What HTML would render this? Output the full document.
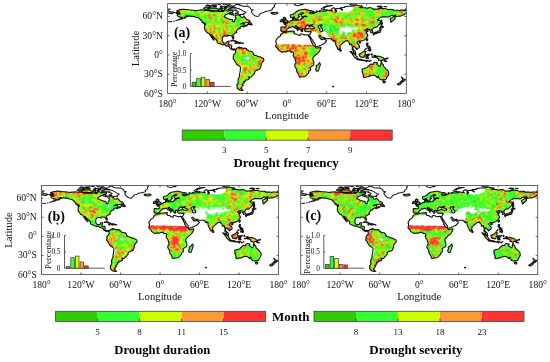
<!DOCTYPE html>
<html><head><meta charset="utf-8"><style>
html,body{margin:0;padding:0;background:#fff;width:550px;height:362px;overflow:hidden}
svg{position:absolute;left:0;top:0}
.tk{font-family:"Liberation Serif","Times New Roman",serif;font-size:9.6px;fill:#111}
.al{font-family:"Liberation Serif","Times New Roman",serif;font-size:10.7px;fill:#111}
.cl{font-family:"Liberation Serif","Times New Roman",serif;font-size:9px;fill:#111}
.it{font-family:"Liberation Serif","Times New Roman",serif;font-size:7.3px;fill:#111}
.pc{font-family:"Liberation Serif","Times New Roman",serif;font-size:9.2px;fill:#111}
.tt{font-family:"Liberation Serif","Times New Roman",serif;font-size:13px;font-weight:bold;fill:#000}
.lb{font-family:"Liberation Serif","Times New Roman",serif;font-size:14px;font-weight:bold;fill:#000}
</style></head><body>
<svg width="550" height="362" viewBox="0 0 550 362">
<defs>
<path id="land" d="M-166,-68.8 -163.5,-69.8 -160,-70.6 -156.5,-71.3 -152,-70.8 -148,-70.3 -145,-70.1 -141,-69.7 -137,-69 -134.5,-69.6 -131,-69.8 -128,-70.3 -125,-69.5 -121,-69.8 -117.5,-69 -114.5,-68 -110,-68 -107.5,-68.2 -104.5,-68 -101.5,-67.7 -98,-67.8 -96,-67.6 -95,-68.5 -94.3,-69.5 -94.5,-71.8 -93,-71.5 -92,-70 -90,-68.8 -88,-68.4 -86.5,-69.5 -85,-69.8 -83,-69.6 -81.5,-69 -81.3,-67.5 -82.5,-66.6 -85.5,-66.4 -86.8,-65 -88,-64.2 -90.5,-63.5 -92.5,-62.5 -94,-61.2 -94.7,-59.5 -94.3,-58.8 -93,-58.7 -90.5,-57.3 -88,-56.5 -85,-55.3 -82.3,-55.1 -82.2,-53.5 -81.5,-52.2 -80,-51.3 -78.8,-52 -79,-54 -78,-55.5 -77,-57 -77.3,-58.5 -78,-60 -77.6,-61.2 -78.1,-62.3 -75.8,-62.2 -73,-62.2 -71.5,-61.3 -70,-61 -69.5,-59.5 -69.3,-58.8 -67.8,-58.3 -66.2,-58.8 -64.8,-60.2 -64.3,-59.5 -63.5,-58.3 -62,-57.2 -61.5,-56 -60,-55.2 -57.5,-54.2 -56.5,-53.3 -55.7,-52.2 -57,-51.4 -59,-50.5 -61.5,-50.2 -64,-50.2 -66.5,-50.2 -68.5,-49.2 -70,-48.2 -69,-48.2 -67.5,-48.8 -65,-49.2 -64.3,-48.6 -65,-47.9 -64.5,-46.5 -63,-46.1 -61,-46.5 -60.2,-46.2 -60,-45.6 -61,-45.2 -63.5,-44.6 -65.8,-43.6 -66.3,-44.5 -64.5,-45.5 -67,-45.1 -68,-44.4 -69.5,-43.9 -70.4,-43.3 -70.8,-42.7 -70.6,-41.7 -70,-41.9 -70.2,-41.6 -71.5,-41.4 -73.5,-40.9 -74,-40.6 -74,-39.6 -75,-38.9 -75.5,-38.5 -76,-37.1 -76.2,-36 -75.5,-35.3 -76.5,-34.8 -77.8,-34 -79,-33.3 -80.5,-32.3 -81.3,-31.3 -81.3,-29.8 -80.6,-28.3 -80,-26.6 -80.4,-25.3 -81,-25.2 -81.8,-26.1 -82.6,-27.6 -82.7,-28.8 -83.7,-29.9 -84.5,-29.9 -86,-30.4 -88,-30.5 -89.5,-30.2 -89.3,-29.1 -90.5,-29.1 -92,-29.6 -93.8,-29.7 -95,-29.2 -96.8,-28.2 -97.4,-27.3 -97.3,-25.8 -97.7,-24.3 -97.7,-22.5 -97.2,-21.2 -96.3,-19.5 -95.2,-18.7 -94.5,-18.2 -92.5,-18.6 -91.3,-18.7 -90.6,-19.6 -90.4,-21 -88.8,-21.4 -87.1,-21.5 -87.5,-20 -87.7,-18.6 -88.2,-17.6 -88.3,-16.3 -88.7,-15.8 -87.5,-15.8 -86,-15.9 -84.5,-15.8 -83.3,-15 -83.4,-13.5 -83.6,-11.8 -83.5,-10.8 -82.5,-9.6 -81.5,-8.9 -80,-9.3 -79,-9.5 -77.8,-8.8 -77.2,-7.9 -77.8,-7.3 -78.4,-8.3 -79.5,-8.7 -80.2,-8.2 -80.4,-7.4 -81.2,-7.7 -82,-8.2 -83.5,-8.5 -84.8,-9.6 -85.7,-9.9 -85.8,-11 -86.6,-12.1 -87.5,-13 -88.5,-13.2 -90,-13.8 -91.5,-14 -92.5,-14.8 -93.8,-15.9 -94.8,-16.2 -96.5,-15.7 -98.5,-16.3 -101,-17.4 -103.5,-18.3 -104.8,-19.3 -105.6,-20.5 -105.3,-21.8 -105.8,-22.8 -107.3,-24.5 -108.8,-25.5 -109.6,-26.7 -110.6,-27.8 -111.8,-28.7 -112.8,-30.2 -113.6,-31.3 -114.8,-31.7 -114.8,-30.8 -114.3,-29.8 -113.2,-28.8 -112.2,-27.3 -111.5,-26 -110.8,-24.7 -110.2,-24.2 -109.5,-23.2 -109.9,-22.9 -110.3,-23.5 -111.5,-24.4 -112.2,-25 -112.2,-26.2 -113.2,-26.8 -114.2,-27.6 -114.1,-28.4 -114.8,-29.5 -115.8,-30.4 -116.6,-31.6 -117.1,-32.5 -117.5,-33.4 -118.5,-34 -119.5,-34.4 -120.6,-34.6 -120.9,-35.5 -121.9,-36.6 -122.4,-37.4 -122.9,-38 -123.7,-39 -123.8,-39.9 -124.3,-40.5 -124.2,-41.5 -124.5,-42.8 -124.1,-44.5 -124,-46.2 -124.5,-47.5 -124.7,-48.4 -123.2,-48.2 -122.6,-47.3 -122.6,-48.8 -123.3,-49.3 -124.5,-49.9 -125.2,-50.5 -126.8,-51 -127.6,-51.8 -128.2,-52.7 -129.2,-53.8 -130.4,-54.5 -130.1,-55.5 -131.5,-55.8 -132.2,-56.8 -133.4,-57.6 -134.6,-58.4 -136,-58.3 -137.3,-58.7 -138.7,-59.3 -140.5,-59.8 -142.5,-60.1 -144.3,-60.1 -146.3,-60.6 -148,-60.5 -149.5,-59.8 -151,-59.3 -151.7,-59.5 -151.3,-60.7 -150,-61.2 -152,-60.8 -153.3,-59.6 -154,-59 -154.3,-58.1 -156,-57.4 -157.8,-56.5 -159.2,-55.8 -161.5,-55.4 -163.2,-54.9 -164.7,-54.4 -163.5,-55.1 -161.8,-55.8 -160.2,-56.4 -158.6,-57.3 -157.5,-58.3 -158.4,-58.8 -160.3,-58.7 -161.8,-58.6 -162.1,-59.6 -163.5,-59.8 -164.7,-60.5 -165.4,-61.2 -165.8,-62.2 -164.8,-62.8 -164.5,-63.2 -162.8,-63.5 -161.2,-63.6 -160.8,-64.4 -162.3,-64.6 -163.6,-64.5 -165.5,-64.5 -166.5,-64.7 -166.9,-65.3 -168.1,-65.6 -166.3,-66.2 -164.5,-66.6 -163.7,-66.3 -162,-66.1 -161.8,-66.7 -163.8,-67.2 -164.6,-67.8 -166.3,-68.3ZM-77.3,-8.5 -76.2,-9.3 -75.6,-10.6 -74.4,-11.1 -73.3,-11.3 -72.2,-11.9 -71.5,-12.4 -71.2,-11.7 -71.6,-11 -71.6,-10.5 -71,-10.8 -70.3,-11.6 -69.8,-11.5 -68.8,-11.4 -68.3,-10.6 -66.8,-10.6 -65,-10.1 -64,-10.7 -62.7,-10.6 -62.3,-10 -61,-9.9 -60.8,-8.6 -59.9,-8.3 -59,-7.8 -58.5,-6.9 -57.3,-6 -55.9,-5.9 -54.2,-5.8 -53,-5.5 -52,-4.5 -51.5,-4.2 -51,-3.2 -50.5,-1.8 -49.9,-1.1 -50.5,-0.2 -49.5,0.2 -48.4,0.7 -47.5,0.6 -45.5,1.2 -44.5,2.3 -43.5,2.4 -42,2.8 -40.5,2.8 -39.3,3.3 -38.2,4.2 -37.2,4.9 -35.5,5.2 -35,6.5 -34.8,7.8 -35.2,9 -35.9,9.9 -37,11 -37.8,12.5 -38.9,13.2 -39,15.5 -39.2,17.5 -39.7,19.2 -40.5,20.6 -41,21.9 -42.2,22.9 -43.5,23.1 -45,23.6 -46.5,24.1 -47.8,25 -48.5,26.2 -48.6,28 -49.5,29 -50.5,30.6 -51.5,31.7 -52.5,32.6 -53.4,33.7 -54.3,34.6 -55.7,34.8 -57,34.5 -58.4,34.1 -57.3,35.4 -56.8,36.4 -57.5,37.9 -58.8,38.6 -61,39 -62.2,38.9 -62.3,40.3 -63,41.1 -64.8,40.8 -65.1,41.9 -64.2,42.4 -65,42.9 -65.3,44.5 -66.5,45 -67.5,46 -66,47.2 -67.5,48.5 -67.9,49.7 -69,50.6 -68.8,51.6 -68.3,52.3 -69.5,52.5 -68.5,53.2 -67.6,54 -66,54.9 -67.3,55.2 -68.6,55.4 -70,55 -71.5,54.5 -73,53.4 -74.3,52.5 -75,51 -75.4,49.5 -75.5,48 -74.8,46.8 -75.5,46.3 -74.4,45.2 -73.7,44 -73.5,43 -73.3,41.8 -73.8,40.5 -73.5,38.5 -73.6,37.3 -72.7,35.8 -72.1,34.5 -71.6,33.2 -71.5,32 -71.5,30.3 -71.3,28.8 -70.9,27.5 -70.5,25.5 -70.4,23.5 -70.2,21.5 -70.1,20 -70.3,18.4 -71.3,17.7 -72.5,16.8 -74,15.9 -75.5,14.8 -76.3,13.8 -76.6,12.8 -77.5,11.8 -78.2,10.3 -79,8.5 -79.9,7.2 -81.1,6.1 -81.2,5.1 -80.9,4.2 -80.2,3.4 -80.5,2.8 -80.9,2.2 -80.8,1.2 -80.4,0.3 -80.1,-0.8 -79.1,-1.3 -78.8,-1.9 -78.5,-2.6 -77.7,-3.3 -77.3,-4.2 -77.4,-5.6 -77.5,-6.6 -78,-7.3 -77.6,-7.9 -77.3,-8.5ZM-5.9,-35.8 -4.5,-35.2 -2.2,-35.1 -1,-35.6 0.2,-35.9 1.5,-36.5 3,-36.8 5,-36.8 6.5,-37.1 8,-36.9 9.8,-37.3 10.4,-36.8 11.1,-37 10.6,-36.3 10.7,-35.6 11.1,-35.2 10.2,-34.2 10.8,-33.7 11.2,-33.1 12.5,-32.8 13.5,-32.8 15.2,-32.3 15.7,-31.4 17,-31 18.5,-30.3 19.5,-30.3 20.2,-31.2 20,-32.2 21.2,-32.8 22.5,-32.8 23.3,-32.3 24.9,-31.9 25.2,-31.5 27,-31.3 28.5,-31 29.7,-31.2 30.8,-31.6 32.2,-31.3 32.6,-29.9 33.2,-28.5 33.9,-27.3 34.6,-26 35.6,-24 35.8,-22.8 36.9,-21.9 37.2,-20.5 37.3,-19 38.5,-18 39.3,-15.8 40.2,-15 41.3,-13.9 42.4,-12.9 43.3,-11.9 43.5,-11.4 44.5,-10.4 45.8,-10.8 47.5,-11.2 49,-11.3 50.5,-11.9 51.3,-11.8 51.1,-10.5 50.8,-9.2 50.1,-8 49.4,-6.7 48.5,-5.1 47.7,-4.2 46.5,-2.9 45.5,-2 44,-1 42.9,0.3 41.7,1.7 40.5,2.5 39.8,3.8 39.2,4.7 38.8,6.2 39.3,7.2 39.4,8.4 39.8,9.9 40.5,10.7 40.6,12.5 40.6,14.3 40.3,15.5 39.5,16.7 38.2,17.3 37,17.9 35.8,18.9 34.8,19.8 35.3,21.3 35.5,22.5 35.5,24 34.5,24.7 33,25.4 32.6,26.2 32.8,27.2 32.4,28.6 31.3,29.5 30.3,30.8 29,32.2 27.8,33.2 26,33.8 25,34 23.3,34 22,34.2 20,34.8 18.8,34.3 18.4,33.9 18.3,32.5 17.6,30.7 17,29 16.4,28.5 15.3,27.2 14.8,25.5 14.5,22.9 14.2,21.9 13.3,20.4 12.2,18.5 11.7,17 11.9,15.6 12.4,13.9 13.6,12.2 13.7,11.1 13.1,9.8 12.8,8.5 12.3,6.6 12.1,5.4 11.4,4.2 10.5,3.3 9.6,2 9.3,0.8 9.5,-0.5 9.5,-1.3 9.9,-2.5 9.9,-3.5 9.3,-3.9 8.8,-4.5 8,-4.5 7,-4.4 6,-4.3 5.4,-5.2 4.6,-6.2 3.5,-6.4 2.2,-6.3 1,-6 0,-5.6 -1,-5.1 -2,-4.8 -3,-5.1 -4.5,-5.2 -6,-4.8 -7.5,-4.4 -8.5,-4.7 -9.7,-5.6 -10.8,-6.3 -11.5,-6.9 -12.5,-7.5 -13.2,-8.3 -13.3,-9.4 -14.2,-10.1 -14.8,-10.8 -15.5,-11.6 -16.3,-12.1 -16.7,-12.7 -16.8,-13.8 -17.2,-14.7 -16.6,-15.6 -16.3,-16.5 -16.1,-18 -16.3,-19.5 -16.5,-20.4 -17,-21 -16.6,-22.3 -16,-23.7 -15.1,-24.8 -14.6,-25.9 -13.5,-27.2 -12.5,-27.9 -11.5,-28.2 -10.2,-29.1 -9.7,-30.2 -9.7,-31.5 -9.2,-32.5 -8.3,-33.4 -7,-33.9 -6.5,-34.7 -6.1,-35.5 -5.9,-35.8ZM49.3,12 50,13.5 50.5,15.3 50.2,16 49.7,17 49.3,18.5 48.7,20.5 48,22.5 47.5,24.3 46.7,25.1 45.2,25.5 44,24.8 43.6,23.4 43.3,22 43.7,21.2 44.4,20 44.4,18.5 44,17.3 44.5,16.2 45.5,15.9 46.5,15.5 47.2,14.6 47.9,13.6 48.8,12.4 49.3,12ZM-5.7,-50.1 -4.5,-50.3 -3.3,-50.6 -2,-50.6 -0.8,-50.8 1,-51.1 1.4,-51.4 0.9,-51.8 1.7,-52.4 1.7,-52.8 0.3,-53.1 0.1,-53.6 -0.2,-54.1 -0.8,-54.6 -1.4,-55 -1.6,-55.6 -2.2,-56 -2.7,-56.3 -2.1,-57.1 -1.8,-57.6 -3.1,-57.7 -3.8,-57.8 -3.1,-58.6 -5,-58.6 -5.2,-58 -5.8,-57.4 -5.6,-56.6 -5.8,-55.8 -5.2,-55.1 -4.7,-54.7 -3.5,-54.9 -3.4,-54.4 -2.9,-53.8 -3.1,-53.3 -4.4,-53.4 -4.7,-52.8 -4.1,-52.4 -5.2,-51.8 -4.3,-51.6 -3.1,-51.4 -3.6,-51.2 -4.5,-51 -5.4,-50.4 -5.7,-50.1ZM-6.2,-52.2 -6.1,-53.1 -6.3,-53.9 -5.6,-54.5 -6.2,-55.2 -7.3,-55.3 -8.3,-55.1 -8.6,-54.5 -10,-54.2 -9.9,-53.4 -9.3,-52.8 -10.3,-52.1 -9.8,-51.5 -8.3,-51.7 -7,-52.1 -6.2,-52.2ZM130.9,-34 131.5,-34.7 132.6,-35.5 134,-35.6 135.3,-35.7 136,-35.9 136.9,-37.1 137.3,-36.8 138.5,-37.4 139.3,-38.2 139.8,-39 140,-40.2 139.9,-40.8 140.3,-41.3 141.3,-41.4 141.5,-40.5 142,-39.6 141.5,-38.4 141,-38.1 140.9,-37 140.6,-36.3 140.8,-35.7 140.3,-35.1 139.8,-35.3 139.7,-34.9 139,-34.8 138.8,-34.6 137.6,-34.6 136.9,-34.9 136.8,-34.3 136.2,-34.2 135.8,-33.5 135.1,-33.8 135.3,-34.6 134.3,-34.7 133,-34.4 132,-33.9 131,-33.9 130.9,-34ZM130,-33.6 129.6,-33.2 129.8,-32.6 130.2,-32 130.2,-31.3 130.7,-31 131.1,-31.4 131.4,-31.9 131.7,-32.6 131.9,-33.1 131.6,-33.6 131.1,-33.9 130.5,-33.9 130,-33.6ZM132.4,-33.3 132.7,-32.8 133.2,-33 134.2,-33.3 134.7,-33.8 134.4,-34.2 133.5,-34.3 132.9,-34 132.4,-33.3ZM140,-41.5 140.1,-42.3 139.9,-42.7 140.5,-43.3 141.4,-43.4 141.6,-44.3 141.8,-45.4 142.7,-44.8 143.7,-44.2 144.8,-43.9 145.3,-44.3 145.2,-43.6 145.6,-43.3 144.3,-43 143.3,-42 142.1,-42.5 141.2,-42.4 140.9,-41.8 140.3,-41.6 140,-41.5ZM142,-46 142.3,-46.7 143.5,-46.1 143.2,-47.8 142.6,-48.7 144,-49.2 143.2,-50.6 143.3,-51.6 143.1,-52.5 143.3,-53.3 142.6,-54.4 142.2,-53.7 142.5,-53.1 141.8,-52 141.9,-50.7 142.1,-49.5 141.9,-48.3 142.1,-47.3 141.9,-46.6 142,-46ZM120.1,-23 120.6,-24.4 121.5,-25.3 122,-25 121.5,-23.5 120.9,-22 120.3,-22.5 120.1,-23ZM108.6,-19.2 109.6,-20 110.6,-20.1 111,-19.6 110.5,-18.7 109.6,-18.2 108.7,-18.5 108.6,-19.2ZM79.8,-6.3 79.8,-8 80,-9.6 80.6,-9.5 81.2,-8.6 81.9,-7.3 81.6,-6.4 80.6,-5.9 79.8,-6.3ZM95.2,-5.6 96,-5.3 97.5,-5.2 98.5,-4.1 99.7,-3.1 100.6,-2.1 101.5,-1.8 102.5,-0.9 103.4,-0.5 103.8,1 104.5,1.8 105.3,2.8 106,3.2 105.8,4.6 105.9,5.8 104.6,5.9 103.8,5 102.5,4 101.5,2.9 100.8,2 100.2,0.9 99.3,-0.2 98.8,-1.6 97.7,-2.5 96.9,-3.6 96,-4.5 95.2,-5.6ZM105.2,6.8 106,6 107,5.9 108.3,6.3 109.5,6.8 110.5,6.9 111.5,6.6 112.6,6.9 113.5,7.3 114.5,7.8 114.4,8.7 113,8.3 111.5,8.3 110,8 108.5,7.8 107,7.5 106.3,7.1 105.2,6.8ZM109,-1.5 109.6,-2 110.5,-1.7 111.3,-2.5 112,-3 113,-3.3 114,-4.3 114.8,-4.9 115.5,-5.4 116.2,-6.2 116.8,-7 117.3,-6.7 117.7,-6 118.5,-5.6 119.2,-5.3 118.5,-4.6 117.8,-4.2 117.7,-3.2 118,-2.2 118.9,-1 118.2,-0.9 117.6,-0.2 117.5,0.8 116.9,1.2 116.5,2 116.5,3 116,3.8 114.8,4 114.4,3.5 113.3,3.2 112.2,3.4 111.5,3 110.3,3 110,2 109.5,1 109,0 108.9,-0.8 109,-1.5ZM119.4,5.5 119.6,4.5 119.4,3.5 118.9,2.6 119.4,1.2 119.8,0 120.4,-0.7 121.5,-1 123,-0.9 124.5,-1.3 125.2,-1.6 124.6,-0.5 123.3,-0.3 121.5,-0.5 120.6,-0.4 120.3,0.6 121.2,1 122.5,0.8 123.3,1 122.5,1.5 121.5,1.9 122.1,3.2 122.5,4.5 123.1,4.8 122.5,5.5 121.8,4.7 121.2,4.5 120.9,3.6 120.5,2.8 120.3,3.8 120.4,5.5 119.4,5.5ZM120,-16.2 120.4,-17.5 120.6,-18.5 121.5,-18.6 122.3,-18.3 122.2,-17 121.5,-15.8 121.6,-14.7 122.5,-14.3 124,-13.8 124.2,-12.6 123.3,-13 122.5,-13.5 121.7,-13.9 120.9,-13.7 120.6,-14.5 120.1,-14.8 119.9,-15.8 120,-16.2ZM122,-7 122.8,-7.6 123.6,-7.9 124.3,-8.2 125.3,-9 125.5,-9.8 126.3,-9.2 126.6,-7.5 126.2,-6.3 125.7,-7.3 125.3,-6.1 124.3,-6.1 124,-7.2 123,-7.5 122,-7ZM131,1.3 132.4,0.4 133.5,0.7 134.2,1 134.3,2.5 135,3.3 136,2.3 137.3,1.5 138.8,1.9 140.5,2.4 141.6,2.7 143.4,3.4 144.5,3.8 145.8,4.9 145.9,5.6 147.5,6.2 147.8,6.9 147.1,7.4 148,8 148.7,9.1 149.6,9.7 150.8,10.3 149.8,10.4 148.3,10.2 147.2,9.4 146.4,8.4 144.5,7.6 143.7,8.1 143.1,9 141.2,9.2 140.2,8.2 139.1,8.1 138.1,8.4 138.3,7.4 137.8,5.8 136,4.7 134.9,4.2 133.6,3.9 132.8,4 132.1,2.9 133.1,2.4 132.2,2.1 131.2,1.6 131,1.3ZM113.5,22 113.7,23.5 113.5,24.8 114.1,26.3 113.3,26.1 114.2,28 114.9,29.5 115,31.5 115.7,32.5 115.7,33.3 115,33.6 115.1,34.3 116.6,35 117.9,35.1 119.3,34.5 120,33.9 121.5,33.8 123.5,33.9 124.2,33 125.5,32.3 127.2,32.2 129,31.7 131.2,31.5 132.5,32 134,32.8 135.2,34.3 135.6,34.8 136.2,34 137,33.4 137.8,32.6 137.9,33.6 137.4,34.9 138.2,34.6 138.5,35.6 139.5,35.9 139.8,37.3 140.5,38 141.5,38.4 142.5,38.4 143.5,38.8 144.6,38.2 144.9,37.9 145.5,38.5 146.3,39.1 147.3,38.3 148.3,37.8 149.9,37.5 150.1,36.3 150.6,35.2 151.2,34 151.6,33.1 152.5,32.3 153,31 153.6,28.6 153.2,27.2 153.1,25.8 152.4,24.8 151.5,23.9 150.8,22.6 149.5,22.3 148.8,20.8 147.6,19.6 146.3,19 146,17.5 145.4,16.3 145.3,14.9 144.4,14.3 143.8,14.1 143.5,12.6 142.8,11.7 142.5,10.7 142.1,11.5 141.6,12.9 141.6,14.5 141.5,15.5 141,16.8 140.4,17.7 139.3,17.4 138.4,16.8 137.2,15.9 136,15.1 135.5,14.8 135.9,13.6 136.7,12.2 136.1,11.9 135.2,12.2 133.8,11.6 132.7,11.4 132,11.3 131.2,12.1 130.2,12.5 130,13.5 129.6,14.9 128.3,14.9 127.6,14.2 126.8,13.9 125.8,14.6 125.1,15.2 124.4,16.3 123.6,17.1 122.5,17.3 122.2,18 121.3,19.4 120.2,19.9 118.8,20.3 117.4,20.7 116.2,20.9 115.1,21.6 114.2,22.2 114,21.8 113.5,22ZM144.6,40.7 146.3,41.1 148.3,40.9 148.3,42.1 147.9,43.1 147,43.6 146,43.6 145.3,42.6 144.7,41.4 144.6,40.7ZM172.7,34.4 173.5,35 174.3,35.7 174.8,36.8 175.5,37.2 176.2,37.7 177.2,38 178.5,37.7 178.3,38.6 177.9,39.2 177,39.5 176.8,40.2 176,41.1 175.3,41.6 174.7,41.3 175.2,40.5 174.7,39.8 173.8,39.3 174.6,38.7 174.8,37.8 174.3,36.6 173.5,35.8 172.7,34.4ZM172.7,40.5 173.8,40.9 174.3,41.5 173.7,42.4 172.8,43.2 173.1,43.8 172,44 171.3,44.4 170.8,45.8 169.8,46.4 168.4,46.6 167.5,46.2 166.5,46 166.6,45.3 167.6,44.6 168.6,44 170.2,43.1 171.2,42.1 171.7,41.4 172.1,40.8 172.7,40.5ZM-84.9,-21.9 -84,-22.6 -83,-22.9 -81.8,-23.1 -80.5,-23 -79.3,-22.4 -78,-22.2 -77.2,-21.6 -76,-21.1 -74.3,-20.3 -74.5,-19.9 -75.6,-19.9 -77.1,-19.9 -77.7,-20.1 -77.3,-20.6 -78.3,-21 -78.8,-21.6 -80.4,-22 -81.3,-22.1 -82,-22.3 -83.2,-22 -84.3,-21.9 -84.9,-21.9ZM-74.4,-18.4 -73.2,-19.1 -72.8,-19.9 -71.7,-19.9 -70.5,-19.8 -69.3,-19.2 -68.4,-18.6 -69.5,-18.4 -70.7,-18.2 -71.5,-17.7 -72.5,-18.1 -73.5,-18.2 -74.4,-18.4ZM-59.4,-47.6 -58.5,-48.6 -58,-49.5 -57.3,-50.6 -55.8,-51.6 -55.5,-50.6 -56.2,-49.9 -55.3,-49.5 -53.9,-49.6 -53.5,-49.2 -53.4,-48.2 -52.7,-47.5 -53.1,-46.7 -54,-46.9 -54.2,-47.5 -55.4,-46.9 -56.1,-47.6 -58.5,-47.5 -59.4,-47.6ZM-128.4,-50.8 -127.2,-50.4 -126,-49.6 -125.4,-48.9 -124,-48.4 -123.3,-48.4 -124,-49.3 -125.2,-50 -127.5,-50.8 -128.4,-50.8ZM148.3,5.6 150.2,5.5 151.5,4.8 152.2,4.3 152.3,5.3 151,6.1 149.3,6.2 148.3,5.6ZM127.5,-1.8 128,-1.3 128.7,-1.5 128.2,-0.6 128.9,-0.3 127.9,0.4 127.6,-0.3 127.5,-1.8ZM128,3.3 129.5,2.8 130.9,3.5 129.8,3.6 128,3.6 128,3.3ZM-78.3,-18.4 -77,-18.5 -76.3,-18 -77.2,-17.8 -78.3,-18.2 -78.3,-18.4ZM-67.2,-18.5 -65.6,-18.4 -65.7,-18 -67.2,-18 -67.2,-18.5ZM-119,-71.5 -117.5,-72.7 -114,-73.2 -111.5,-72.8 -108.5,-73.2 -106,-72.8 -104.5,-71.5 -102.5,-71 -101,-70.2 -103,-69.2 -106,-69 -108.5,-68.9 -111,-69.2 -114.5,-69.4 -117.5,-69.8 -118.5,-70.5 -119,-71.5ZM-125.5,-72 -124.8,-73.5 -124.2,-74.3 -121,-74.5 -117.5,-74.2 -115.3,-73.5 -117.8,-72.8 -120.3,-71.5 -122.5,-71.2 -125.5,-72ZM-86.5,-64 -84,-63.2 -81.5,-63 -80.2,-63.8 -81.5,-64.5 -83,-65.5 -85,-65.8 -86.8,-65.5 -86.5,-64ZM-99.5,-69.3 -97.5,-69.8 -95.5,-69.3 -96.5,-68.4 -99,-68.5 -99.5,-69.3ZM-101.5,-72.5 -100,-73.8 -97.5,-73.5 -97,-72.2 -98.5,-71.4 -101.5,-72.5ZM-95,-72 -94,-73.8 -90.5,-74 -91.5,-72.5 -93.5,-72 -95,-72ZM-24.3,-65.6 -23.5,-66.2 -22.5,-66.4 -21.5,-65.9 -20,-66.1 -18.5,-66.2 -16.5,-66.5 -15,-66.4 -14.5,-65.9 -13.6,-65.2 -14.5,-64.5 -16,-64 -17.8,-63.5 -19.5,-63.4 -21,-63.8 -22.7,-63.9 -22,-64.4 -24,-64.9 -22.5,-65.3 -24.3,-65.6ZM115,8.2 115.7,8.4 115.2,8.8 114.6,8.4 115,8.2ZM116,8.4 116.7,8.4 116.5,8.9 116,8.8 116,8.4ZM117,8.6 119,8.3 118.8,8.8 117,9 117,8.6ZM119.8,8.5 122.5,8.1 122.8,8.5 120,8.9 119.8,8.5ZM119,9.6 120.8,9.9 120.5,10.3 119,9.8 119,9.6ZM123.6,10.3 125,9.2 127.2,8.4 126,9 124.4,10.2 123.6,10.3ZM124.3,-12.5 125.7,-12.3 125.7,-11 124.9,-10.2 124.3,-11.3 124.3,-12.5ZM121.9,-11.9 123.1,-11.1 122.8,-10.5 122,-10.5 121.9,-11.9ZM122.5,-10.8 123.5,-10.8 123.2,-9.5 122.5,-9.8 122.5,-10.8ZM118,-8.5 119.5,-10.5 119.8,-10.2 118.5,-8.7 117.2,-8.3 118,-8.5ZM-5.6,-36 -6.3,-36.8 -7.4,-37.2 -8.9,-37 -8.8,-38.2 -9.5,-38.8 -9,-40 -8.8,-41.5 -8.9,-42.5 -9.3,-43 -8,-43.7 -6,-43.6 -4,-43.4 -1.8,-43.4 -1.3,-44.3 -1.2,-45.5 -1.2,-46.2 -2.2,-47.1 -2.8,-47.5 -4.3,-47.8 -4.7,-48.4 -3.2,-48.8 -1.6,-48.7 -1.9,-49.7 -1.2,-49.4 0.2,-49.5 1,-49.9 1.6,-50.4 2.5,-51.1 3.5,-51.4 4.2,-51.9 4.7,-52.8 5.5,-53.3 7,-53.5 8.2,-53.5 8.8,-54 8.6,-55.2 8.2,-56.1 8.5,-57 9.5,-57.1 10.5,-57.7 10.4,-56.7 10.9,-56.3 10.1,-55.9 9.8,-55 10.9,-54.4 12,-54.2 13.3,-54.4 14.2,-53.9 16,-54.3 17.5,-54.8 18.7,-54.5 19.7,-54.4 21.2,-55.2 21.1,-56.1 21.3,-57 21.8,-57.5 22.6,-57.6 23.3,-57.1 24.2,-57.2 24.4,-58.3 23.5,-58.7 23.5,-59.2 24.8,-59.5 26.5,-59.5 28,-59.5 29.8,-59.9 28.8,-60.5 27.5,-60.5 26,-60.4 24,-60 22.9,-59.9 21.4,-60.7 21.5,-61.7 21.2,-62.6 22.3,-63.4 23.5,-64 24.6,-64.8 25.4,-65.2 24.6,-65.7 23.2,-65.8 22,-65.5 21.3,-64.7 20.3,-63.9 19,-63.4 17.8,-62.7 17.3,-61.7 17.2,-60.7 18.4,-60.3 19,-59.7 18.1,-59.1 16.9,-58.5 16.5,-57.5 16.3,-56.5 15.2,-56.1 14.3,-55.6 12.9,-55.5 12.5,-56.3 12.5,-56.8 11.9,-57.6 11.5,-58.3 11.2,-58.9 10.5,-59.6 10.3,-59.1 9.5,-58.9 8.3,-58.2 7,-58 6,-58.2 5.5,-58.8 5.4,-59.6 5,-60.3 5,-61.2 5.1,-62.1 6,-62.6 7.3,-63 8.5,-63.4 9.8,-63.9 10.8,-64.6 12,-65.3 12.5,-66 13.5,-67 14.6,-67.8 15.5,-68.4 16.6,-68.8 17.6,-69.5 19,-69.8 20.5,-70 22,-70.3 23.5,-70.7 25,-70.9 26.5,-71 28,-71 29.5,-70.6 31,-70.3 30.3,-69.8 32.1,-69.9 33.5,-69.3 36,-69.1 38.3,-68.5 40.5,-67.8 41.2,-66.8 40.3,-66.3 38.5,-66.1 35.5,-66.4 34.5,-66.5 33.5,-66.3 34.6,-65.5 34.8,-64.5 36.5,-64.1 37.5,-63.9 38,-64.5 40,-64.5 41.5,-65.2 43,-66.1 44.2,-66.2 44.5,-67 43.8,-68.4 45.5,-68.5 46.3,-67.9 48,-67.7 49.5,-67.9 51,-68.4 53,-68.6 54.5,-68.3 56,-68.6 58,-68.9 59.5,-68.5 60.5,-69.2 60.3,-69.9 62,-69.7 64.2,-69.4 66,-69.1 67.5,-68.5 68.5,-68.8 67.5,-69.6 66.8,-70.6 67.3,-71.5 68.6,-72.5 69.3,-73 70.5,-73.4 71.8,-72.8 72.7,-72.2 72.6,-71.1 72.4,-70.2 72.6,-69.2 73.6,-68.4 73.2,-67.7 72.5,-66.8 73.5,-66.8 74.5,-67.7 75,-68.5 74.5,-69.6 73.8,-70.6 73.5,-71.6 74.8,-72.2 75.5,-72.6 76.5,-72.2 78,-72.3 79.5,-72.4 80.7,-72.1 80.5,-71.3 81.5,-71.7 83,-71.4 83.7,-70.5 83.3,-69.6 82.5,-70.8 82.2,-71.8 81,-72.7 80.6,-73.6 82.5,-73.6 84.5,-73.8 86.8,-73.9 86,-74.5 87,-75.1 90,-75.6 93,-76 96,-76.1 98.5,-76.4 100.8,-76.5 101.5,-77.3 104.3,-77.7 106,-77.4 107.5,-76.9 109.5,-76.7 111.5,-76.6 113.3,-76.2 113.8,-75.5 112.7,-74.9 110.5,-74.4 109.5,-74 110.8,-73.7 113.2,-73.8 115,-73.6 118.5,-73.5 120.5,-72.9 123,-73.1 124.5,-73.8 126.5,-73.5 127.5,-73.2 128.9,-72.7 129.5,-71.9 131,-70.8 132.3,-71.6 133.5,-71.4 135.5,-71.6 137.5,-71.4 139.5,-72.2 140.5,-72.8 143,-72.6 146,-72.3 149,-72 150.5,-71.4 152.5,-70.9 155,-71 157,-70.9 159,-70.8 160.5,-70.3 160,-69.6 162.5,-69.6 165,-69.6 167.5,-69.7 169.5,-68.8 171,-69.8 172.5,-69.9 175,-69.8 177,-69.5 179,-69 180.5,-68.8 182,-68.2 184,-67.4 186,-67 188,-66.7 189.5,-66.3 190.3,-66 188.5,-65.4 187.5,-64.8 186.5,-64.3 185,-64.6 183.5,-64.6 182,-65.3 180.5,-65.3 179,-64.8 178,-64.2 177.3,-62.6 176,-62.4 174,-61.8 172.5,-61.1 171,-60.3 169.5,-60.6 167,-60.3 165,-60 164,-59.8 163.2,-59.3 163,-57.8 162.2,-57.6 163.2,-56.2 162.2,-55.6 161.8,-54.8 160.4,-54.3 160,-53.2 158.7,-52.8 158.2,-51.8 156.7,-51 156.5,-52.8 156.1,-54.5 155.6,-56 156.5,-57.4 158.2,-58 159.8,-59.3 161.9,-60.3 163.5,-61.2 164,-62.2 163.3,-62.4 162,-61.7 160.2,-61.3 159.5,-61.7 157.5,-61.6 156.5,-61.2 155,-59.9 154.3,-59.2 152.5,-59 151,-59.1 149,-59.4 147,-59.3 145,-59.3 143,-59.3 142,-58.8 140.5,-57.8 139,-57 137.8,-55.7 136.3,-54.8 137.5,-53.9 138.6,-53.9 139.6,-54.2 141.3,-53.1 141.2,-52.2 140.7,-51.2 140.5,-50.1 140.4,-48.9 139.9,-48 139,-47.2 138.2,-46.3 137.3,-45.4 136.3,-44.4 135.3,-43.5 134,-42.8 132.5,-43.2 131.8,-42.9 130.7,-42.3 130,-41.5 129.7,-40.8 129.5,-40.3 128.5,-39.9 127.5,-39.6 127.6,-39.1 128.4,-38.5 129.2,-37.5 129.5,-36.6 129.4,-35.4 128.5,-35 127.5,-34.6 126.4,-34.5 126.3,-35.5 126.6,-36.5 126.4,-37.3 126.1,-37.8 125.2,-37.7 125,-38.6 125.3,-39.4 124.7,-39.8 123.5,-39.8 122.2,-39.4 121.3,-38.9 121.6,-39.5 122.1,-40.3 121.4,-40.9 120.3,-40.3 119.4,-39.6 118.3,-39.1 117.7,-38.5 118.2,-37.8 118.9,-37.3 119.8,-37.1 120.8,-37.8 122.5,-37.4 122.3,-36.8 121,-36.5 120.2,-35.7 119.3,-34.8 120.3,-34.2 120.8,-32.8 121.4,-32.2 121.9,-31.6 121.5,-30.9 122,-30.3 121.6,-29.4 121.7,-28.6 121,-28.1 120.5,-27.4 119.8,-26.4 119.5,-25.5 118.7,-24.7 117.8,-24.1 116.8,-23.4 115.5,-22.8 114.3,-22.4 113.6,-22.2 112.9,-21.9 111.8,-21.6 110.7,-21.3 110.3,-20.4 109.9,-20.7 109.7,-21.6 108.6,-21.8 107.6,-21.4 106.7,-20.7 106,-19.9 105.7,-18.9 106.5,-17.8 107.2,-17 108.3,-15.9 108.9,-15.1 109.3,-13.6 109.3,-12.4 109.1,-11.4 108.1,-10.9 107.1,-10.5 106.4,-9.6 105.1,-8.6 104.8,-9.3 105,-10.1 104.4,-10.5 103.5,-10.6 103,-11.5 102.5,-12.2 101.5,-12.7 100.9,-12.7 100.9,-13.5 100.1,-13.4 99.9,-12.5 99.3,-11 99.2,-10 99.9,-9.2 100.3,-8.4 100.5,-7.3 101.3,-6.9 102.2,-6.2 103,-5.5 103.4,-4.8 103.4,-3.7 103.6,-2.8 104.2,-1.5 103.5,-1.3 102.8,-1.9 101.4,-2.8 100.7,-3.8 100.4,-5 100.3,-6 99.7,-6.8 99.3,-7.6 98.4,-8.1 98.5,-9.5 98.6,-10.8 98.7,-11.8 98.3,-13.2 97.8,-14.7 97.6,-16.2 97.2,-16.9 96.4,-16.6 95.4,-15.8 94.8,-15.9 94.3,-16.2 94.6,-17.5 94.3,-18.6 93.7,-19.4 93.1,-20.3 92.4,-20.7 92.1,-21.5 91.8,-22.4 91.1,-22.6 90.5,-22 89.8,-21.9 89,-21.7 88.1,-21.6 87,-21.5 86.9,-20.7 86.4,-19.9 85.1,-19.4 84.1,-18.3 83,-17.4 82.2,-16.6 81.3,-15.9 80.3,-15.5 80.2,-14.5 80.3,-13.3 80,-12 79.8,-10.9 79.3,-10.3 78.9,-9.3 78.2,-8.8 77.5,-8.1 76.6,-8.9 76.1,-10.2 75.7,-11.4 75.2,-12.7 74.6,-13.9 74.1,-15 73.5,-16.2 73.1,-17.6 72.8,-19 72.8,-20.4 72.7,-21.2 72.2,-21.8 72.5,-22.5 71.5,-22.2 70.6,-21.2 69.5,-21.9 69,-22.4 69.7,-22.9 68.8,-23.3 68.2,-23.7 67.4,-24 67,-24.8 66.6,-25.4 65,-25.3 63.5,-25.2 61.6,-25.2 60.4,-25.3 58.5,-25.6 57.3,-25.9 56.9,-26.9 56.4,-27.1 55.6,-26.8 54.7,-26.5 53.5,-26.8 52.5,-27.5 51.5,-27.9 50.9,-28.8 50.1,-30.1 49,-30.3 48.5,-29.9 48,-29.5 48.4,-28.5 48.8,-27.7 49.6,-26.8 50.2,-26.2 50.2,-25.6 50.8,-24.8 51.3,-26.1 51.6,-25.3 51.6,-24.3 52.6,-24.2 54,-24.1 54.7,-24.8 55.5,-25.4 56.1,-26.1 56.4,-26.4 56.4,-25.2 56.8,-24.2 57.8,-23.7 58.7,-23.6 59.4,-22.6 59.8,-22.4 59.3,-21.4 58.5,-20.4 58,-20.5 57.7,-19.7 57.7,-18.9 56.6,-18.6 56.3,-17.9 55.3,-17.2 55,-16.9 53.5,-16.6 52.2,-15.6 50.9,-15.1 49.6,-14.7 48.7,-14 47.4,-13.6 46,-13.4 44.9,-12.8 43.5,-12.6 43.2,-13.2 43,-14 42.8,-14.8 42.6,-15.7 42.8,-16.4 42.5,-17.2 41.8,-17.8 41.2,-18.7 40.6,-19.8 39.8,-20.3 39.1,-21.3 39,-22.5 38.5,-23.7 37.5,-24.3 37.2,-25.1 36.6,-26 36.2,-26.6 35.6,-27.4 35.1,-28.1 34.6,-28.1 34.9,-29.5 34.3,-28.1 33.6,-27.9 32.7,-29.9 32.3,-31.2 33.5,-31.1 34.2,-31.3 34.6,-31.9 34.9,-32.8 35.1,-33.1 35.5,-33.9 35.9,-34.6 35.9,-35.5 36.2,-36 36,-36.9 35.5,-36.6 34.7,-36.8 34,-36.2 32.5,-36.1 31.7,-36.6 30.6,-36.7 30.4,-36.3 29.7,-36.1 28.7,-36.7 27.6,-36.7 27.2,-37.4 26.7,-38.3 26.8,-38.9 26.2,-39.4 26.4,-40.2 27.3,-40.4 28.8,-40.4 29.2,-41.2 31.1,-41.1 32.3,-41.7 33.5,-42 35.2,-42 36.9,-41.3 38.3,-40.9 39.5,-41.1 40.4,-41 41.6,-41.5 41.5,-42.6 40.9,-43.1 40,-43.4 38.7,-44.3 37.5,-44.7 36.7,-45.2 37.9,-46 38.2,-46.9 39.1,-47.2 38.2,-47.1 37.4,-47 36.8,-46.7 35.8,-46.6 35,-46.2 35.5,-45.5 36.5,-45.5 35.9,-45 35.2,-44.9 34,-44.4 33.4,-44.6 32.5,-45.3 33.6,-45.9 32.6,-46.1 31.7,-46.3 31.2,-46.6 30.7,-46.5 30.2,-45.8 29.7,-45.3 29.6,-44.8 28.8,-44.9 28.6,-44.2 28.4,-43.4 28,-42.9 27.7,-42.5 28,-42 28.5,-41.6 29.1,-41.2 28.1,-41 27.5,-41 26.4,-40.5 26.1,-40.7 25.4,-40.9 24.5,-40.9 23.7,-40.7 23.9,-40.2 22.9,-40.6 22.6,-40.2 22.8,-39.6 23.3,-39.2 22.9,-38.9 23.5,-38.4 24,-38.2 24,-37.7 23.2,-37.9 22.9,-37.5 23.2,-36.4 22.6,-36.6 22.3,-36.4 21.7,-36.8 21.3,-37.6 21.1,-38.3 20.7,-38.8 20.2,-39.4 19.9,-40 19.4,-40.4 19.4,-41.4 19.6,-41.8 18.9,-42.3 18.5,-42.5 17.5,-43 16.3,-43.5 15.5,-44 15.1,-44.5 14.8,-45.1 14.3,-45.3 13.9,-44.9 13.6,-45.5 13.1,-45.7 12.3,-45.3 12.4,-44.8 12.4,-44 13.5,-43.6 14.1,-42.6 15,-42 15.9,-41.9 16.1,-41.4 17.1,-41 18.4,-40.4 18.5,-40.1 17.9,-40.2 17,-40.5 16.6,-39.9 17.1,-39.4 17.1,-38.9 16.6,-38.8 16.1,-38 15.7,-37.9 15.7,-38.3 16.2,-38.8 15.7,-40 15,-40.2 14.7,-40.6 14,-40.8 13.6,-41.2 12.6,-41.5 12,-41.9 11.2,-42.4 10.5,-42.9 10.2,-43.9 9.3,-44.3 8.4,-44.2 7.5,-43.8 6.6,-43.2 5.5,-43.2 4.5,-43.5 3.6,-43.4 3.1,-43.1 3.2,-42.3 3.1,-41.9 2.1,-41.2 0.8,-40.7 0.3,-40 -0.3,-39.3 0,-38.9 -0.5,-38.3 -0.7,-37.6 -1.4,-37.5 -2.1,-36.7 -3.4,-36.7 -4.4,-36.7 -5,-36.4 -5.6,-36ZM-365.6,-36 -366.3,-36.8 -367.4,-37.2 -368.9,-37 -368.8,-38.2 -369.5,-38.8 -369,-40 -368.8,-41.5 -368.9,-42.5 -369.3,-43 -368,-43.7 -366,-43.6 -364,-43.4 -361.8,-43.4 -361.3,-44.3 -361.2,-45.5 -361.2,-46.2 -362.2,-47.1 -362.8,-47.5 -364.3,-47.8 -364.7,-48.4 -363.2,-48.8 -361.6,-48.7 -361.9,-49.7 -361.2,-49.4 -359.8,-49.5 -359,-49.9 -358.4,-50.4 -357.5,-51.1 -356.5,-51.4 -355.8,-51.9 -355.3,-52.8 -354.5,-53.3 -353,-53.5 -351.8,-53.5 -351.2,-54 -351.4,-55.2 -351.8,-56.1 -351.5,-57 -350.5,-57.1 -349.5,-57.7 -349.6,-56.7 -349.1,-56.3 -349.9,-55.9 -350.2,-55 -349.1,-54.4 -348,-54.2 -346.7,-54.4 -345.8,-53.9 -344,-54.3 -342.5,-54.8 -341.3,-54.5 -340.3,-54.4 -338.8,-55.2 -338.9,-56.1 -338.7,-57 -338.2,-57.5 -337.4,-57.6 -336.7,-57.1 -335.8,-57.2 -335.6,-58.3 -336.5,-58.7 -336.5,-59.2 -335.2,-59.5 -333.5,-59.5 -332,-59.5 -330.2,-59.9 -331.2,-60.5 -332.5,-60.5 -334,-60.4 -336,-60 -337.1,-59.9 -338.6,-60.7 -338.5,-61.7 -338.8,-62.6 -337.7,-63.4 -336.5,-64 -335.4,-64.8 -334.6,-65.2 -335.4,-65.7 -336.8,-65.8 -338,-65.5 -338.7,-64.7 -339.7,-63.9 -341,-63.4 -342.2,-62.7 -342.7,-61.7 -342.8,-60.7 -341.6,-60.3 -341,-59.7 -341.9,-59.1 -343.1,-58.5 -343.5,-57.5 -343.7,-56.5 -344.8,-56.1 -345.7,-55.6 -347.1,-55.5 -347.5,-56.3 -347.5,-56.8 -348.1,-57.6 -348.5,-58.3 -348.8,-58.9 -349.5,-59.6 -349.7,-59.1 -350.5,-58.9 -351.7,-58.2 -353,-58 -354,-58.2 -354.5,-58.8 -354.6,-59.6 -355,-60.3 -355,-61.2 -354.9,-62.1 -354,-62.6 -352.7,-63 -351.5,-63.4 -350.2,-63.9 -349.2,-64.6 -348,-65.3 -347.5,-66 -346.5,-67 -345.4,-67.8 -344.5,-68.4 -343.4,-68.8 -342.4,-69.5 -341,-69.8 -339.5,-70 -338,-70.3 -336.5,-70.7 -335,-70.9 -333.5,-71 -332,-71 -330.5,-70.6 -329,-70.3 -329.7,-69.8 -327.9,-69.9 -326.5,-69.3 -324,-69.1 -321.7,-68.5 -319.5,-67.8 -318.8,-66.8 -319.7,-66.3 -321.5,-66.1 -324.5,-66.4 -325.5,-66.5 -326.5,-66.3 -325.4,-65.5 -325.2,-64.5 -323.5,-64.1 -322.5,-63.9 -322,-64.5 -320,-64.5 -318.5,-65.2 -317,-66.1 -315.8,-66.2 -315.5,-67 -316.2,-68.4 -314.5,-68.5 -313.7,-67.9 -312,-67.7 -310.5,-67.9 -309,-68.4 -307,-68.6 -305.5,-68.3 -304,-68.6 -302,-68.9 -300.5,-68.5 -299.5,-69.2 -299.7,-69.9 -298,-69.7 -295.8,-69.4 -294,-69.1 -292.5,-68.5 -291.5,-68.8 -292.5,-69.6 -293.2,-70.6 -292.7,-71.5 -291.4,-72.5 -290.7,-73 -289.5,-73.4 -288.2,-72.8 -287.3,-72.2 -287.4,-71.1 -287.6,-70.2 -287.4,-69.2 -286.4,-68.4 -286.8,-67.7 -287.5,-66.8 -286.5,-66.8 -285.5,-67.7 -285,-68.5 -285.5,-69.6 -286.2,-70.6 -286.5,-71.6 -285.2,-72.2 -284.5,-72.6 -283.5,-72.2 -282,-72.3 -280.5,-72.4 -279.3,-72.1 -279.5,-71.3 -278.5,-71.7 -277,-71.4 -276.3,-70.5 -276.7,-69.6 -277.5,-70.8 -277.8,-71.8 -279,-72.7 -279.4,-73.6 -277.5,-73.6 -275.5,-73.8 -273.2,-73.9 -274,-74.5 -273,-75.1 -270,-75.6 -267,-76 -264,-76.1 -261.5,-76.4 -259.2,-76.5 -258.5,-77.3 -255.7,-77.7 -254,-77.4 -252.5,-76.9 -250.5,-76.7 -248.5,-76.6 -246.7,-76.2 -246.2,-75.5 -247.3,-74.9 -249.5,-74.4 -250.5,-74 -249.2,-73.7 -246.8,-73.8 -245,-73.6 -241.5,-73.5 -239.5,-72.9 -237,-73.1 -235.5,-73.8 -233.5,-73.5 -232.5,-73.2 -231.1,-72.7 -230.5,-71.9 -229,-70.8 -227.7,-71.6 -226.5,-71.4 -224.5,-71.6 -222.5,-71.4 -220.5,-72.2 -219.5,-72.8 -217,-72.6 -214,-72.3 -211,-72 -209.5,-71.4 -207.5,-70.9 -205,-71 -203,-70.9 -201,-70.8 -199.5,-70.3 -200,-69.6 -197.5,-69.6 -195,-69.6 -192.5,-69.7 -190.5,-68.8 -189,-69.8 -187.5,-69.9 -185,-69.8 -183,-69.5 -181,-69 -179.5,-68.8 -178,-68.2 -176,-67.4 -174,-67 -172,-66.7 -170.5,-66.3 -169.7,-66 -171.5,-65.4 -172.5,-64.8 -173.5,-64.3 -175,-64.6 -176.5,-64.6 -178,-65.3 -179.5,-65.3 -181,-64.8 -182,-64.2 -182.7,-62.6 -184,-62.4 -186,-61.8 -187.5,-61.1 -189,-60.3 -190.5,-60.6 -193,-60.3 -195,-60 -196,-59.8 -196.8,-59.3 -197,-57.8 -197.8,-57.6 -196.8,-56.2 -197.8,-55.6 -198.2,-54.8 -199.6,-54.3 -200,-53.2 -201.3,-52.8 -201.8,-51.8 -203.3,-51 -203.5,-52.8 -203.9,-54.5 -204.4,-56 -203.5,-57.4 -201.8,-58 -200.2,-59.3 -198.1,-60.3 -196.5,-61.2 -196,-62.2 -196.7,-62.4 -198,-61.7 -199.8,-61.3 -200.5,-61.7 -202.5,-61.6 -203.5,-61.2 -205,-59.9 -205.7,-59.2 -207.5,-59 -209,-59.1 -211,-59.4 -213,-59.3 -215,-59.3 -217,-59.3 -218,-58.8 -219.5,-57.8 -221,-57 -222.2,-55.7 -223.7,-54.8 -222.5,-53.9 -221.4,-53.9 -220.4,-54.2 -218.7,-53.1 -218.8,-52.2 -219.3,-51.2 -219.5,-50.1 -219.6,-48.9 -220.1,-48 -221,-47.2 -221.8,-46.3 -222.7,-45.4 -223.7,-44.4 -224.7,-43.5 -226,-42.8 -227.5,-43.2 -228.2,-42.9 -229.3,-42.3 -230,-41.5 -230.3,-40.8 -230.5,-40.3 -231.5,-39.9 -232.5,-39.6 -232.4,-39.1 -231.6,-38.5 -230.8,-37.5 -230.5,-36.6 -230.6,-35.4 -231.5,-35 -232.5,-34.6 -233.6,-34.5 -233.7,-35.5 -233.4,-36.5 -233.6,-37.3 -233.9,-37.8 -234.8,-37.7 -235,-38.6 -234.7,-39.4 -235.3,-39.8 -236.5,-39.8 -237.8,-39.4 -238.7,-38.9 -238.4,-39.5 -237.9,-40.3 -238.6,-40.9 -239.7,-40.3 -240.6,-39.6 -241.7,-39.1 -242.3,-38.5 -241.8,-37.8 -241.1,-37.3 -240.2,-37.1 -239.2,-37.8 -237.5,-37.4 -237.7,-36.8 -239,-36.5 -239.8,-35.7 -240.7,-34.8 -239.7,-34.2 -239.2,-32.8 -238.6,-32.2 -238.1,-31.6 -238.5,-30.9 -238,-30.3 -238.4,-29.4 -238.3,-28.6 -239,-28.1 -239.5,-27.4 -240.2,-26.4 -240.5,-25.5 -241.3,-24.7 -242.2,-24.1 -243.2,-23.4 -244.5,-22.8 -245.7,-22.4 -246.4,-22.2 -247.1,-21.9 -248.2,-21.6 -249.3,-21.3 -249.7,-20.4 -250.1,-20.7 -250.3,-21.6 -251.4,-21.8 -252.4,-21.4 -253.3,-20.7 -254,-19.9 -254.3,-18.9 -253.5,-17.8 -252.8,-17 -251.7,-15.9 -251.1,-15.1 -250.7,-13.6 -250.7,-12.4 -250.9,-11.4 -251.9,-10.9 -252.9,-10.5 -253.6,-9.6 -254.9,-8.6 -255.2,-9.3 -255,-10.1 -255.6,-10.5 -256.5,-10.6 -257,-11.5 -257.5,-12.2 -258.5,-12.7 -259.1,-12.7 -259.1,-13.5 -259.9,-13.4 -260.1,-12.5 -260.7,-11 -260.8,-10 -260.1,-9.2 -259.7,-8.4 -259.5,-7.3 -258.7,-6.9 -257.8,-6.2 -257,-5.5 -256.6,-4.8 -256.6,-3.7 -256.4,-2.8 -255.8,-1.5 -256.5,-1.3 -257.2,-1.9 -258.6,-2.8 -259.3,-3.8 -259.6,-5 -259.7,-6 -260.3,-6.8 -260.7,-7.6 -261.6,-8.1 -261.5,-9.5 -261.4,-10.8 -261.3,-11.8 -261.7,-13.2 -262.2,-14.7 -262.4,-16.2 -262.8,-16.9 -263.6,-16.6 -264.6,-15.8 -265.2,-15.9 -265.7,-16.2 -265.4,-17.5 -265.7,-18.6 -266.3,-19.4 -266.9,-20.3 -267.6,-20.7 -267.9,-21.5 -268.2,-22.4 -268.9,-22.6 -269.5,-22 -270.2,-21.9 -271,-21.7 -271.9,-21.6 -273,-21.5 -273.1,-20.7 -273.6,-19.9 -274.9,-19.4 -275.9,-18.3 -277,-17.4 -277.8,-16.6 -278.7,-15.9 -279.7,-15.5 -279.8,-14.5 -279.7,-13.3 -280,-12 -280.2,-10.9 -280.7,-10.3 -281.1,-9.3 -281.8,-8.8 -282.5,-8.1 -283.4,-8.9 -283.9,-10.2 -284.3,-11.4 -284.8,-12.7 -285.4,-13.9 -285.9,-15 -286.5,-16.2 -286.9,-17.6 -287.2,-19 -287.2,-20.4 -287.3,-21.2 -287.8,-21.8 -287.5,-22.5 -288.5,-22.2 -289.4,-21.2 -290.5,-21.9 -291,-22.4 -290.3,-22.9 -291.2,-23.3 -291.8,-23.7 -292.6,-24 -293,-24.8 -293.4,-25.4 -295,-25.3 -296.5,-25.2 -298.4,-25.2 -299.6,-25.3 -301.5,-25.6 -302.7,-25.9 -303.1,-26.9 -303.6,-27.1 -304.4,-26.8 -305.3,-26.5 -306.5,-26.8 -307.5,-27.5 -308.5,-27.9 -309.1,-28.8 -309.9,-30.1 -311,-30.3 -311.5,-29.9 -312,-29.5 -311.6,-28.5 -311.2,-27.7 -310.4,-26.8 -309.8,-26.2 -309.8,-25.6 -309.2,-24.8 -308.7,-26.1 -308.4,-25.3 -308.4,-24.3 -307.4,-24.2 -306,-24.1 -305.3,-24.8 -304.5,-25.4 -303.9,-26.1 -303.6,-26.4 -303.6,-25.2 -303.2,-24.2 -302.2,-23.7 -301.3,-23.6 -300.6,-22.6 -300.2,-22.4 -300.7,-21.4 -301.5,-20.4 -302,-20.5 -302.3,-19.7 -302.3,-18.9 -303.4,-18.6 -303.7,-17.9 -304.7,-17.2 -305,-16.9 -306.5,-16.6 -307.8,-15.6 -309.1,-15.1 -310.4,-14.7 -311.3,-14 -312.6,-13.6 -314,-13.4 -315.1,-12.8 -316.5,-12.6 -316.8,-13.2 -317,-14 -317.2,-14.8 -317.4,-15.7 -317.2,-16.4 -317.5,-17.2 -318.2,-17.8 -318.8,-18.7 -319.4,-19.8 -320.2,-20.3 -320.9,-21.3 -321,-22.5 -321.5,-23.7 -322.5,-24.3 -322.8,-25.1 -323.4,-26 -323.8,-26.6 -324.4,-27.4 -324.9,-28.1 -325.4,-28.1 -325.1,-29.5 -325.7,-28.1 -326.4,-27.9 -327.3,-29.9 -327.7,-31.2 -326.5,-31.1 -325.8,-31.3 -325.4,-31.9 -325.1,-32.8 -324.9,-33.1 -324.5,-33.9 -324.1,-34.6 -324.1,-35.5 -323.8,-36 -324,-36.9 -324.5,-36.6 -325.3,-36.8 -326,-36.2 -327.5,-36.1 -328.3,-36.6 -329.4,-36.7 -329.6,-36.3 -330.3,-36.1 -331.3,-36.7 -332.4,-36.7 -332.8,-37.4 -333.3,-38.3 -333.2,-38.9 -333.8,-39.4 -333.6,-40.2 -332.7,-40.4 -331.2,-40.4 -330.8,-41.2 -328.9,-41.1 -327.7,-41.7 -326.5,-42 -324.8,-42 -323.1,-41.3 -321.7,-40.9 -320.5,-41.1 -319.6,-41 -318.4,-41.5 -318.5,-42.6 -319.1,-43.1 -320,-43.4 -321.3,-44.3 -322.5,-44.7 -323.3,-45.2 -322.1,-46 -321.8,-46.9 -320.9,-47.2 -321.8,-47.1 -322.6,-47 -323.2,-46.7 -324.2,-46.6 -325,-46.2 -324.5,-45.5 -323.5,-45.5 -324.1,-45 -324.8,-44.9 -326,-44.4 -326.6,-44.6 -327.5,-45.3 -326.4,-45.9 -327.4,-46.1 -328.3,-46.3 -328.8,-46.6 -329.3,-46.5 -329.8,-45.8 -330.3,-45.3 -330.4,-44.8 -331.2,-44.9 -331.4,-44.2 -331.6,-43.4 -332,-42.9 -332.3,-42.5 -332,-42 -331.5,-41.6 -330.9,-41.2 -331.9,-41 -332.5,-41 -333.6,-40.5 -333.9,-40.7 -334.6,-40.9 -335.5,-40.9 -336.3,-40.7 -336.1,-40.2 -337.1,-40.6 -337.4,-40.2 -337.2,-39.6 -336.7,-39.2 -337.1,-38.9 -336.5,-38.4 -336,-38.2 -336,-37.7 -336.8,-37.9 -337.1,-37.5 -336.8,-36.4 -337.4,-36.6 -337.7,-36.4 -338.3,-36.8 -338.7,-37.6 -338.9,-38.3 -339.3,-38.8 -339.8,-39.4 -340.1,-40 -340.6,-40.4 -340.6,-41.4 -340.4,-41.8 -341.1,-42.3 -341.5,-42.5 -342.5,-43 -343.7,-43.5 -344.5,-44 -344.9,-44.5 -345.2,-45.1 -345.7,-45.3 -346.1,-44.9 -346.4,-45.5 -346.9,-45.7 -347.7,-45.3 -347.6,-44.8 -347.6,-44 -346.5,-43.6 -345.9,-42.6 -345,-42 -344.1,-41.9 -343.9,-41.4 -342.9,-41 -341.6,-40.4 -341.5,-40.1 -342.1,-40.2 -343,-40.5 -343.4,-39.9 -342.9,-39.4 -342.9,-38.9 -343.4,-38.8 -343.9,-38 -344.3,-37.9 -344.3,-38.3 -343.8,-38.8 -344.3,-40 -345,-40.2 -345.3,-40.6 -346,-40.8 -346.4,-41.2 -347.4,-41.5 -348,-41.9 -348.8,-42.4 -349.5,-42.9 -349.8,-43.9 -350.7,-44.3 -351.6,-44.2 -352.5,-43.8 -353.4,-43.2 -354.5,-43.2 -355.5,-43.5 -356.4,-43.4 -356.9,-43.1 -356.8,-42.3 -356.9,-41.9 -357.9,-41.2 -359.2,-40.7 -359.7,-40 -360.3,-39.3 -360,-38.9 -360.5,-38.3 -360.7,-37.6 -361.4,-37.5 -362.1,-36.7 -363.4,-36.7 -364.4,-36.7 -365,-36.4 -365.6,-36ZM46.8,-44.6 47.5,-43.6 47.8,-42.9 48.6,-41.8 49.5,-40.9 50.3,-40.3 49.4,-40.2 49.3,-39.4 48.9,-38.4 49.9,-37.5 51,-36.8 52.5,-36.8 53.9,-37.4 53.9,-38.9 53.2,-39.8 53.9,-40.6 52.9,-41.2 52.6,-42.3 51.3,-43.1 50.3,-44.3 51.2,-44.5 51.3,-45.2 52.2,-45.4 53.1,-45.8 53,-46.8 51.3,-47 50.2,-46.7 49,-46.4 47.5,-45.5 46.8,-44.6Z"/>
<path id="outl" d="M-73,-78.5 -71,-77.5 -68.5,-76.5 -66,-76 -62,-76 -59,-75.8 -58,-75 -56.5,-74.5 -55.8,-73.5 -55,-72.5 -54.5,-71 -52,-70.5 -51,-70 -52.5,-69.5 -53.5,-68.8 -53,-67.8 -53.7,-67 -53,-66 -52.2,-65 -51.5,-64 -50.5,-63 -49.5,-62 -48.5,-61 -47,-60.7 -45.5,-60.2 -44,-59.9 -43,-60.5 -42.3,-61.5 -41.5,-62.6 -40.5,-63.5 -40,-64.7 -38,-65.5 -36,-65.8 -34.5,-66.5 -33,-67.5 -31.5,-68.2 -28,-68.5 -25.5,-69.3 -23,-70 -22,-70.8 -22.5,-71.7 -21.8,-72.8 -20.5,-73.5 -19.5,-74.5 -19,-75.5 -18.5,-76.5 -19.5,-77.5 -18,-78.5 -17.5,-79.5 -16,-80.5 -15,-81.5 -20,-82.5 -30,-83.5 -45,-83.3 -60,-82.2 -65,-81 -68,-80 -72,-79.5 -73,-78.5ZM-64.8,-62.5 -66.5,-62.9 -68.5,-63.3 -70.5,-62.8 -72.5,-63.5 -74,-64.3 -76,-64.3 -77.8,-64.5 -77.5,-65.4 -75,-65.5 -73.5,-66.5 -73,-67.5 -74.5,-68.2 -76.8,-69 -78.5,-69.8 -81,-70 -84,-70 -86,-70.2 -88,-70.5 -89.5,-71.3 -87,-72 -84,-72.8 -80.5,-73.6 -78,-73.7 -75,-72.8 -72,-72 -70,-70.8 -68.3,-70.2 -67.5,-69.3 -66,-68.3 -63.5,-67.2 -61.8,-66.6 -62.5,-65.8 -63.5,-65 -65,-64.6 -65.5,-64 -64.8,-62.5ZM-117,-75.2 -116,-76.5 -112,-76.6 -109,-76.3 -106,-75.8 -106.5,-75 -110,-74.8 -113.5,-74.5 -117,-75.2ZM-122.5,-76.5 -120,-77.3 -116.5,-77.5 -117.5,-76.5 -120,-76.2 -122.5,-76.5ZM-100.5,-75.5 -98,-76.5 -97.5,-75.2 -100.5,-75.5ZM-92.2,-74.6 -88,-74.5 -84,-74.4 -81,-74.6 -80,-75.6 -84,-76.5 -89,-76.4 -92.5,-75.8 -92.2,-74.6ZM-90,-76.8 -85,-76.3 -80,-76.2 -78,-77 -77,-78.5 -73,-79 -70,-80 -64,-81.5 -62,-82.5 -70,-83.1 -85,-82.5 -92,-81 -90,-79.5 -85,-79 -88.5,-78 -90,-76.8ZM-94,-78 -91,-79 -91.5,-80.5 -95,-81 -97,-80 -95.5,-78.5 -94,-78ZM11,-78.5 13.5,-77.5 15.5,-76.8 17,-76.6 18.5,-77.5 21,-78.3 22.5,-78 24,-78.5 21,-79.2 27,-80 26,-80.7 19,-80.6 15,-80 11,-79.8 11,-78.5ZM51.5,-71.5 53,-71 55,-70.6 57.5,-70.6 56.5,-71.3 55.5,-72.3 56,-73.3 57.5,-74.2 59.5,-75 62,-75.8 64.5,-76.3 67.5,-76.8 68.5,-76.9 66,-77 63,-76.7 60,-76.1 58,-75.6 56,-74.8 54.5,-73.8 53.5,-73 52.5,-72.5 51.5,-71.5ZM94.5,-79 97,-78.2 100,-78.8 101,-79.5 104.5,-79.2 105,-80.5 99,-81 95,-80.2 94.5,-79ZM-182.5,-71 -179.5,-71.5 -178,-71.2 -180,-70.9 -182.5,-71ZM-152.5,-57.9 -154.5,-56.9 -153.5,-57.7 -152.5,-57.9ZM136,-75.4 138.5,-74.7 140.5,-74.8 143.5,-75.1 142.5,-75.8 139,-76.1 136,-75.4ZM146,-75.3 148.5,-75 150.5,-75.1 149,-75.6 146,-75.3ZM141.5,-73.2 143.5,-73.2 142.5,-73.9 141,-73.8 141.5,-73.2ZM-156,-19.1 -155,-19.6 -155.9,-20.2 -156,-19.1ZM-156.6,-20.9 -156,-20.7 -156.5,-20.6 -156.6,-20.9ZM-166.5,-53.6 -167.8,-53.5 -166,-54.1 -166.5,-53.6ZM-170,-52.6 -171,-52.4 -170.5,-52.8 -170,-52.6ZM-174,-52 -176,-51.8 -175,-52.2 -174,-52ZM-177.5,-51.7 -178.5,-51.8 -178,-52 -177.5,-51.7ZM-80,-73.3 -76.5,-73.6 -77.5,-72.8 -80,-73.3ZM-83,-62.3 -81.5,-62.9 -82.5,-62.6 -83,-62.3ZM-80.5,-61.8 -79.5,-62.4 -80,-61.6 -80.5,-61.8ZM-78,-70.2 -76.5,-69.8 -77.2,-70.5 -78,-70.2ZM-96.5,-75.2 -93.5,-75.5 -93.5,-74.8 -96.5,-75.2ZM-110,-77.8 -106,-78.2 -108,-77.3 -110,-77.8ZM-104,-78.5 -100,-79 -101.5,-78 -104,-78.5ZM-112,-78.2 -113,-77.8 -111,-77.6 -112,-78.2ZM49,-69.2 50.5,-69.3 49.5,-68.8 49,-69.2ZM58.5,-70.2 60.5,-70.3 59.5,-69.8 58.5,-70.2ZM137.5,-71.5 139.5,-71.4 138.5,-71.2 137.5,-71.5ZM-178,-71.2 -176,-71.5 -177,-71 -178,-71.2ZM287,-78.5 289,-77.5 291.5,-76.5 294,-76 298,-76 301,-75.8 302,-75 303.5,-74.5 304.2,-73.5 305,-72.5 305.5,-71 308,-70.5 309,-70 307.5,-69.5 306.5,-68.8 307,-67.8 306.3,-67 307,-66 307.8,-65 308.5,-64 309.5,-63 310.5,-62 311.5,-61 313,-60.7 314.5,-60.2 316,-59.9 317,-60.5 317.7,-61.5 318.5,-62.6 319.5,-63.5 320,-64.7 322,-65.5 324,-65.8 325.5,-66.5 327,-67.5 328.5,-68.2 332,-68.5 334.5,-69.3 337,-70 338,-70.8 337.5,-71.7 338.2,-72.8 339.5,-73.5 340.5,-74.5 341,-75.5 341.5,-76.5 340.5,-77.5 342,-78.5 342.5,-79.5 344,-80.5 345,-81.5 340,-82.5 330,-83.5 315,-83.3 300,-82.2 295,-81 292,-80 288,-79.5 287,-78.5ZM295.2,-62.5 293.5,-62.9 291.5,-63.3 289.5,-62.8 287.5,-63.5 286,-64.3 284,-64.3 282.2,-64.5 282.5,-65.4 285,-65.5 286.5,-66.5 287,-67.5 285.5,-68.2 283.2,-69 281.5,-69.8 279,-70 276,-70 274,-70.2 272,-70.5 270.5,-71.3 273,-72 276,-72.8 279.5,-73.6 282,-73.7 285,-72.8 288,-72 290,-70.8 291.7,-70.2 292.5,-69.3 294,-68.3 296.5,-67.2 298.2,-66.6 297.5,-65.8 296.5,-65 295,-64.6 294.5,-64 295.2,-62.5ZM243,-75.2 244,-76.5 248,-76.6 251,-76.3 254,-75.8 253.5,-75 250,-74.8 246.5,-74.5 243,-75.2ZM237.5,-76.5 240,-77.3 243.5,-77.5 242.5,-76.5 240,-76.2 237.5,-76.5ZM259.5,-75.5 262,-76.5 262.5,-75.2 259.5,-75.5ZM267.8,-74.6 272,-74.5 276,-74.4 279,-74.6 280,-75.6 276,-76.5 271,-76.4 267.5,-75.8 267.8,-74.6ZM270,-76.8 275,-76.3 280,-76.2 282,-77 283,-78.5 287,-79 290,-80 296,-81.5 298,-82.5 290,-83.1 275,-82.5 268,-81 270,-79.5 275,-79 271.5,-78 270,-76.8ZM266,-78 269,-79 268.5,-80.5 265,-81 263,-80 264.5,-78.5 266,-78ZM371,-78.5 373.5,-77.5 375.5,-76.8 377,-76.6 378.5,-77.5 381,-78.3 382.5,-78 384,-78.5 381,-79.2 387,-80 386,-80.7 379,-80.6 375,-80 371,-79.8 371,-78.5ZM411.5,-71.5 413,-71 415,-70.6 417.5,-70.6 416.5,-71.3 415.5,-72.3 416,-73.3 417.5,-74.2 419.5,-75 422,-75.8 424.5,-76.3 427.5,-76.8 428.5,-76.9 426,-77 423,-76.7 420,-76.1 418,-75.6 416,-74.8 414.5,-73.8 413.5,-73 412.5,-72.5 411.5,-71.5ZM454.5,-79 457,-78.2 460,-78.8 461,-79.5 464.5,-79.2 465,-80.5 459,-81 455,-80.2 454.5,-79ZM177.5,-71 180.5,-71.5 182,-71.2 180,-70.9 177.5,-71ZM207.5,-57.9 205.5,-56.9 206.5,-57.7 207.5,-57.9ZM496,-75.4 498.5,-74.7 500.5,-74.8 503.5,-75.1 502.5,-75.8 499,-76.1 496,-75.4ZM506,-75.3 508.5,-75 510.5,-75.1 509,-75.6 506,-75.3ZM501.5,-73.2 503.5,-73.2 502.5,-73.9 501,-73.8 501.5,-73.2ZM204,-19.1 205,-19.6 204.1,-20.2 204,-19.1ZM203.4,-20.9 204,-20.7 203.5,-20.6 203.4,-20.9ZM193.5,-53.6 192.2,-53.5 194,-54.1 193.5,-53.6ZM190,-52.6 189,-52.4 189.5,-52.8 190,-52.6ZM186,-52 184,-51.8 185,-52.2 186,-52ZM182.5,-51.7 181.5,-51.8 182,-52 182.5,-51.7ZM280,-73.3 283.5,-73.6 282.5,-72.8 280,-73.3ZM277,-62.3 278.5,-62.9 277.5,-62.6 277,-62.3ZM279.5,-61.8 280.5,-62.4 280,-61.6 279.5,-61.8ZM282,-70.2 283.5,-69.8 282.8,-70.5 282,-70.2ZM263.5,-75.2 266.5,-75.5 266.5,-74.8 263.5,-75.2ZM250,-77.8 254,-78.2 252,-77.3 250,-77.8ZM256,-78.5 260,-79 258.5,-78 256,-78.5ZM248,-78.2 247,-77.8 249,-77.6 248,-78.2ZM409,-69.2 410.5,-69.3 409.5,-68.8 409,-69.2ZM418.5,-70.2 420.5,-70.3 419.5,-69.8 418.5,-70.2ZM497.5,-71.5 499.5,-71.4 498.5,-71.2 497.5,-71.5ZM182,-71.2 184,-71.5 183,-71 182,-71.2ZM68.8,48.7 70.5,48.9 70.3,49.7 69,49.6 68.8,48.7Z"/>
<path id="nodA" d="M-20,-16.8 -20,-27.5 -12,-28.5 -9.5,-29.5 -7,-31 -3,-32.3 2,-33.5 8,-34 10.5,-33.5 12,-35 20,-35 33,-33 35,-30 38,-22 39,-17 37,-15.5 34,-16.2 30,-15.6 26,-16.5 22,-15.8 18,-16.8 14,-16 10,-17.2 6,-16.4 2,-17.3 -2,-16.5 -6,-17.2 -10,-16.4 -14,-17 -20,-16.8ZM34.3,-28 34.5,-31.5 36.5,-33.5 38.5,-36 41,-36.8 44,-35.3 46.5,-33 48.5,-30.5 50.5,-29.5 60,-26 61,-22 55,-15 45,-11 42,-12 38,-20 34.3,-28ZM53,-36 57,-36.5 61,-34 62,-30 66,-27 64,-25.5 57,-26.5 55,-29 52,-32 53,-36ZM77.5,-38.5 80,-40.8 84,-41.5 88,-40.8 89.5,-39.5 87,-37.8 82,-37 78.5,-37.2 77.5,-38.5ZM95,-40.5 98,-42.5 103,-43.2 107,-42.5 108.5,-40.5 105,-39 100,-39.2 96,-39.5 95,-40.5ZM66,-70 66,-74 80,-76 95,-76.5 100,-74 100,-71.5 97,-68.5 92,-66.5 84,-66 76,-66.5 70,-68 66,-70ZM-62,3 -59,2.5 -56,4 -57,6.5 -59,8 -61.5,7 -63,5 -62,3ZM-72,16 -68.8,16.8 -68,20 -68,24 -68.8,27.5 -69.8,31 -72,31 -72,16Z"/>
<path id="nodB" d="M-20,-17.3 -20,-27.5 -12,-28.5 -9.5,-29.5 -7,-31 -3,-32.3 2,-33.5 8,-34 10.5,-33.5 12,-35 20,-35 33,-33 35,-30 38,-22 39,-17 36,-16 32,-16.8 28,-16.2 24,-17 20,-16.3 16,-17.2 12,-16.5 8,-17 4,-17.6 0,-16.6 -4,-17.5 -8,-16.8 -12,-17.8 -17,-17 -20,-17.3ZM34,-28 34.5,-31.5 36.5,-34 38.5,-36.5 43,-37.5 46,-36 48,-36.5 52,-37 56,-38.5 60,-40.5 63,-41 67,-38 70,-35 71,-32 70,-28 68,-25.5 63,-25 58,-26.5 60,-22 55,-15 45,-11 42,-12 38,-20 34,-28ZM77.5,-38.5 80,-40.8 84,-41.5 88,-40.8 89.5,-39.5 87,-37.8 82,-37 78.5,-37.2 77.5,-38.5ZM95,-40.5 98,-42.5 103,-43.2 107,-42.5 108.5,-40.5 105,-39 100,-39.2 96,-39.5 95,-40.5ZM66,-70 66,-74 80,-76 95,-76.5 100,-74 100,-71.5 97,-68.5 92,-66.5 84,-66 76,-66.5 70,-68 66,-70ZM-60,3 -56,3 -55,6 -59,7 -61,5 -60,3ZM-72,16 -68.8,16.8 -68,20 -68,24 -68.8,27.5 -69.8,31 -72,31 -72,16Z"/>
<path id="nodC" d="M-20,-17.3 -20,-27.5 -12,-28.5 -9.5,-29.5 -7,-31 -3,-32.3 2,-33.5 8,-34 10.5,-33.5 12,-35 20,-35 33,-33 35,-30 38,-22 39,-17 36,-16 32,-16.8 28,-16.2 24,-17 20,-16.3 16,-17.2 12,-16.5 8,-17 4,-17.6 0,-16.6 -4,-17.5 -8,-16.8 -12,-17.8 -17,-17 -20,-17.3ZM34,-28 34.5,-31.5 36.5,-34 38.5,-36.5 43,-37.5 46,-36 48,-36.5 52,-37 56,-38.5 60,-40.5 63,-41 67,-38 70,-35 71,-32 70,-28 68,-25.5 63,-25 58,-26.5 60,-22 55,-15 45,-11 42,-12 38,-20 34,-28ZM77.5,-38.5 80,-40.8 84,-41.5 88,-40.8 89.5,-39.5 87,-37.8 82,-37 78.5,-37.2 77.5,-38.5ZM95,-40.5 98,-42.5 103,-43.2 107,-42.5 108.5,-40.5 105,-39 100,-39.2 96,-39.5 95,-40.5ZM66,-70 66,-74 80,-76 95,-76.5 100,-74 100,-71.5 97,-68.5 92,-66.5 84,-66 76,-66.5 70,-68 66,-70ZM-60,3 -56,3 -55,6 -59,7 -61,5 -60,3ZM-72,16 -68.8,16.8 -68,20 -68,24 -68.8,27.5 -69.8,31 -72,31 -72,16Z"/>
<clipPath id="landclip"><use href="#land"/></clipPath>
<clipPath id="frameclip"><rect x="-180" y="-80" width="360" height="140"/></clipPath>
<filter id="texa" x="-180" y="-80" width="360" height="140" filterUnits="userSpaceOnUse" color-interpolation-filters="sRGB">
<feGaussianBlur in="SourceGraphic" stdDeviation="1.5" result="b"/>
<feTurbulence type="fractalNoise" baseFrequency="0.25" numOctaves="2" seed="3"/>
<feColorMatrix type="matrix" values="1 0 0 0 0 1 0 0 0 0 1 0 0 0 0 0 0 0 0 1" result="n1"/>
<feTurbulence type="fractalNoise" baseFrequency="0.06" numOctaves="3" seed="53"/>
<feColorMatrix type="matrix" values="1 0 0 0 0 1 0 0 0 0 1 0 0 0 0 0 0 0 0 1" result="n2"/>
<feComposite in="n1" in2="n2" operator="arithmetic" k2="0.8" k3="0.45" k4="-0.1250" result="n"/>
<feComposite in="n" in2="b" operator="arithmetic" k2="1" k3="1" k4="-0.5"/>
<feColorMatrix type="matrix" values="1 0 0 0 0 1 0 0 0 0 1 0 0 0 0 0 0 0 0 1"/>
<feComponentTransfer><feFuncR type="discrete" tableValues="1 1 1 1 1 1 1 1 1 1 1 1 0.2 0.2 0.2 0.2 0.2 0.2 0.2 0.2 0.2 0.2 0.2 0.2 0.2 0.2 0.2 0.2 0.2 0.2 0.2 0.2 0.2 0.2 0.2 0.2 0.2 0.2 0.2 0.2 0.2 0.2 0.2 0.2 0.8 0.8 0.8 0.8 0.8 0.8 0.8 0.8 0.8 0.8 0.8 1 1 1 1 1 1 1 1 1 1 1 1 1 1 1 1 1 1 1 1 1 1 1 1 1 1 1 1 1 1 1 1 1 1 1 1 1 1 1 1 1 1 1 1 1"/><feFuncG type="discrete" tableValues="1 1 1 1 1 1 1 1 1 1 1 1 0.8 0.8 0.8 0.8 0.8 0.8 0.8 0.8 1 1 1 1 1 1 1 1 1 1 1 1 1 1 1 1 1 1 1 1 1 1 1 1 1 1 1 1 1 1 1 1 1 1 1 0.6 0.6 0.6 0.6 0.6 0.6 0.6 0.6 0.2 0.2 0.2 0.2 0.2 0.2 0.2 0.2 0.2 0.2 0.2 0.2 0.2 0.2 0.2 0.2 0.2 0.2 0.2 0.2 0.2 0.2 0.2 0.2 0.2 0.2 0.2 0.2 0.2 0.2 0.2 0.2 0.2 0.2 0.2 0.2 0.2"/><feFuncB type="discrete" tableValues="1 1 1 1 1 1 1 1 1 1 1 1 0 0 0 0 0 0 0 0 0.2 0.2 0.2 0.2 0.2 0.2 0.2 0.2 0.2 0.2 0.2 0.2 0.2 0.2 0.2 0.2 0.2 0.2 0.2 0.2 0.2 0.2 0.2 0.2 0 0 0 0 0 0 0 0 0 0 0 0.2 0.2 0.2 0.2 0.2 0.2 0.2 0.2 0.2 0.2 0.2 0.2 0.2 0.2 0.2 0.2 0.2 0.2 0.2 0.2 0.2 0.2 0.2 0.2 0.2 0.2 0.2 0.2 0.2 0.2 0.2 0.2 0.2 0.2 0.2 0.2 0.2 0.2 0.2 0.2 0.2 0.2 0.2 0.2 0.2"/></feComponentTransfer>
<feConvolveMatrix order="3" kernelMatrix="1 2 1 2 8 2 1 2 1" preserveAlpha="true"/>
</filter>
<filter id="texb" x="-180" y="-80" width="360" height="140" filterUnits="userSpaceOnUse" color-interpolation-filters="sRGB">
<feGaussianBlur in="SourceGraphic" stdDeviation="1.5" result="b"/>
<feTurbulence type="fractalNoise" baseFrequency="0.25" numOctaves="2" seed="5"/>
<feColorMatrix type="matrix" values="1 0 0 0 0 1 0 0 0 0 1 0 0 0 0 0 0 0 0 1" result="n1"/>
<feTurbulence type="fractalNoise" baseFrequency="0.06" numOctaves="3" seed="55"/>
<feColorMatrix type="matrix" values="1 0 0 0 0 1 0 0 0 0 1 0 0 0 0 0 0 0 0 1" result="n2"/>
<feComposite in="n1" in2="n2" operator="arithmetic" k2="0.8" k3="0.45" k4="-0.1250" result="n"/>
<feComposite in="n" in2="b" operator="arithmetic" k2="1" k3="1" k4="-0.5"/>
<feColorMatrix type="matrix" values="1 0 0 0 0 1 0 0 0 0 1 0 0 0 0 0 0 0 0 1"/>
<feComponentTransfer><feFuncR type="discrete" tableValues="1 1 1 1 1 1 1 1 1 1 1 1 1 1 0.2 0.2 0.2 0.2 0.2 0.2 0.2 0.2 0.2 0.2 0.2 0.2 0.2 0.2 0.2 0.2 0.2 0.2 0.2 0.2 0.2 0.2 0.2 0.2 0.2 0.2 0.2 0.2 0.2 0.2 0.2 0.2 0.2 0.2 0.8 0.8 0.8 0.8 0.8 0.8 0.8 0.8 0.8 0.8 0.8 1 1 1 1 1 1 1 1 1 1 1 1 1 1 1 1 1 1 1 1 1 1 1 1 1 1 1 1 1 1 1 1 1 1 1 1 1 1 1 1 1"/><feFuncG type="discrete" tableValues="1 1 1 1 1 1 1 1 1 1 1 1 1 1 1 1 1 1 1 1 1 1 1 1 1 1 1 1 1 1 1 1 1 1 1 1 1 1 1 1 1 1 1 1 1 1 1 1 1 1 1 1 1 1 1 1 1 1 1 0.6 0.6 0.6 0.6 0.6 0.6 0.6 0.6 0.2 0.2 0.2 0.2 0.2 0.2 0.2 0.2 0.2 0.2 0.2 0.2 0.2 0.2 0.2 0.2 0.2 0.2 0.2 0.2 0.2 0.2 0.2 0.2 0.2 0.2 0.2 0.2 0.2 0.2 0.2 0.2 0.2"/><feFuncB type="discrete" tableValues="1 1 1 1 1 1 1 1 1 1 1 1 1 1 0.2 0.2 0.2 0.2 0.2 0.2 0.2 0.2 0.2 0.2 0.2 0.2 0.2 0.2 0.2 0.2 0.2 0.2 0.2 0.2 0.2 0.2 0.2 0.2 0.2 0.2 0.2 0.2 0.2 0.2 0.2 0.2 0.2 0.2 0 0 0 0 0 0 0 0 0 0 0 0.2 0.2 0.2 0.2 0.2 0.2 0.2 0.2 0.2 0.2 0.2 0.2 0.2 0.2 0.2 0.2 0.2 0.2 0.2 0.2 0.2 0.2 0.2 0.2 0.2 0.2 0.2 0.2 0.2 0.2 0.2 0.2 0.2 0.2 0.2 0.2 0.2 0.2 0.2 0.2 0.2"/></feComponentTransfer>
<feConvolveMatrix order="3" kernelMatrix="1 2 1 2 8 2 1 2 1" preserveAlpha="true"/>
</filter>
<filter id="texc" x="-180" y="-80" width="360" height="140" filterUnits="userSpaceOnUse" color-interpolation-filters="sRGB">
<feGaussianBlur in="SourceGraphic" stdDeviation="1.5" result="b"/>
<feTurbulence type="fractalNoise" baseFrequency="0.25" numOctaves="2" seed="7"/>
<feColorMatrix type="matrix" values="1 0 0 0 0 1 0 0 0 0 1 0 0 0 0 0 0 0 0 1" result="n1"/>
<feTurbulence type="fractalNoise" baseFrequency="0.06" numOctaves="3" seed="57"/>
<feColorMatrix type="matrix" values="1 0 0 0 0 1 0 0 0 0 1 0 0 0 0 0 0 0 0 1" result="n2"/>
<feComposite in="n1" in2="n2" operator="arithmetic" k2="0.8" k3="0.45" k4="-0.1250" result="n"/>
<feComposite in="n" in2="b" operator="arithmetic" k2="1" k3="1" k4="-0.5"/>
<feColorMatrix type="matrix" values="1 0 0 0 0 1 0 0 0 0 1 0 0 0 0 0 0 0 0 1"/>
<feComponentTransfer><feFuncR type="discrete" tableValues="1 1 1 1 1 1 1 1 1 1 1 1 1 1 1 0.2 0.2 0.2 0.2 0.2 0.2 0.2 0.2 0.2 0.2 0.2 0.2 0.2 0.2 0.2 0.2 0.2 0.2 0.2 0.2 0.2 0.2 0.2 0.2 0.2 0.2 0.2 0.2 0.2 0.2 0.2 0.2 0.2 0.2 0.2 0.2 0.8 0.8 0.8 0.8 0.8 0.8 0.8 0.8 0.8 1 1 1 1 1 1 1 1 1 1 1 1 1 1 1 1 1 1 1 1 1 1 1 1 1 1 1 1 1 1 1 1 1 1 1 1 1 1 1 1"/><feFuncG type="discrete" tableValues="1 1 1 1 1 1 1 1 1 1 1 1 1 1 1 0.8 0.8 0.8 0.8 0.8 0.8 0.8 0.8 1 1 1 1 1 1 1 1 1 1 1 1 1 1 1 1 1 1 1 1 1 1 1 1 1 1 1 1 1 1 1 1 1 1 1 1 1 0.6 0.6 0.6 0.6 0.6 0.2 0.2 0.2 0.2 0.2 0.2 0.2 0.2 0.2 0.2 0.2 0.2 0.2 0.2 0.2 0.2 0.2 0.2 0.2 0.2 0.2 0.2 0.2 0.2 0.2 0.2 0.2 0.2 0.2 0.2 0.2 0.2 0.2 0.2 0.2"/><feFuncB type="discrete" tableValues="1 1 1 1 1 1 1 1 1 1 1 1 1 1 1 0 0 0 0 0 0 0 0 0.2 0.2 0.2 0.2 0.2 0.2 0.2 0.2 0.2 0.2 0.2 0.2 0.2 0.2 0.2 0.2 0.2 0.2 0.2 0.2 0.2 0.2 0.2 0.2 0.2 0.2 0.2 0.2 0 0 0 0 0 0 0 0 0 0.2 0.2 0.2 0.2 0.2 0.2 0.2 0.2 0.2 0.2 0.2 0.2 0.2 0.2 0.2 0.2 0.2 0.2 0.2 0.2 0.2 0.2 0.2 0.2 0.2 0.2 0.2 0.2 0.2 0.2 0.2 0.2 0.2 0.2 0.2 0.2 0.2 0.2 0.2 0.2"/></feComponentTransfer>
<feConvolveMatrix order="3" kernelMatrix="1 2 1 2 8 2 1 2 1" preserveAlpha="true"/>
</filter>
</defs>
<g transform="translate(286.950,54.971) scale(0.66306,0.64214)">
<g clip-path="url(#frameclip)">
<g clip-path="url(#landclip)">
<g filter="url(#texa)"><rect x="-180" y="-80" width="360" height="140" fill="rgb(128,128,128)"/><path d="M-180,-48 -50,-48 -50,-80 -180,-80 -180,-48Z" fill="rgb(110,110,110)"/><path d="M110,-55 190,-55 190,-78 110,-78 110,-55Z" fill="rgb(110,110,110)"/><path d="M30,-55 110,-55 110,-78 30,-78 30,-55Z" fill="rgb(115,115,115)"/><path d="M110,45 155,45 155,10 110,10 110,45Z" fill="rgb(135,135,135)"/><path d="M-118,-7 -77,-7 -77,-28 -118,-28 -118,-7Z" fill="rgb(138,138,138)"/><path d="M-18,-3 42,-3 42,-17 -18,-17 -18,-3Z" fill="rgb(153,153,153)"/><path d="M40,-48 130,-48 130,-56 40,-56 40,-48Z" fill="rgb(138,138,138)"/><path d="M35,-40 80,-40 80,-55 35,-55 35,-40Z" fill="rgb(128,128,128)"/><path d="M-10,-36 30,-36 30,-52 -10,-52 -10,-36Z" fill="rgb(148,148,148)"/><path d="M-75,15 -45,15 -45,-5 -75,-5 -75,15Z" fill="rgb(115,115,115)"/><path d="M68,-8 92,-8 92,-32 68,-32 68,-8Z" fill="rgb(148,148,148)"/><path d="M12,35 36,35 36,12 12,12 12,35Z" fill="rgb(138,138,138)"/><path d="M-125,-28 -100,-28 -100,-48 -125,-48 -125,-28Z" fill="rgb(133,133,133)"/><path d="M4,-56 32,-56 32,-72 4,-72 4,-56Z" fill="rgb(107,107,107)"/><path d="M33,10 52,10 52,-12 33,-12 33,10Z" fill="rgb(112,112,112)"/><path d="M-100,-38 -60,-38 -60,-48 -100,-48 -100,-38Z" fill="rgb(117,117,117)"/><path d="M118,31 147,31 147,19 118,19 118,31Z" fill="rgb(102,102,102)"/><path d="M74,-38 76,-42 80,-43.5 86,-44.5 92,-45 97,-44.5 103,-43.5 110,-43.5 112,-42 108,-39 102,-38 98,-36 94,-33 88,-30.5 82,-30.5 78,-32.5 74,-38Z" fill="rgb(13,13,13)"/><path d="M-76,56 -60,56 -60,35 -76,35 -76,56Z" fill="rgb(140,140,140)"/><path d="M8,12 30,12 30,-3 8,-3 8,12Z" fill="rgb(143,143,143)"/><path d="M100,-21 123,-21 123,-35 100,-35 100,-21Z" fill="rgb(148,148,148)"/><path d="M50,-36 74,-36 74,-46 50,-46 50,-36Z" fill="rgb(56,56,56)"/><path d="M-98,-28 -76,-28 -76,-38 -98,-38 -98,-28Z" fill="rgb(133,133,133)"/><path d="M95,-8 110,-8 110,-22 95,-22 95,-8Z" fill="rgb(120,120,120)"/><path d="M-78,-5 -55,-5 -55,-12 -78,-12 -78,-5Z" fill="rgb(143,143,143)"/><path d="M-45,15 -34,15 -34,2 -45,2 -45,15Z" fill="rgb(143,143,143)"/><path d="M-64,2 -58,1 -54,3 -55,7 -58,9.5 -63,8 -65,5 -64,2Z" fill="rgb(43,43,43)"/></g>
<use href="#nodA" fill="#fff"/>
</g>
<use href="#land" fill="none" stroke="#111" stroke-width="1.685" stroke-linejoin="round"/>
<use href="#outl" fill="none" stroke="#111" stroke-width="1.531" stroke-linejoin="round"/>
</g>
</g>
<g transform="translate(160.050,236.357) scale(0.65861,0.63571)">
<g clip-path="url(#frameclip)">
<g clip-path="url(#landclip)">
<g filter="url(#texb)"><rect x="-180" y="-80" width="360" height="140" fill="rgb(128,128,128)"/><path d="M-180,-10 -50,-10 -50,-80 -180,-80 -180,-10Z" fill="rgb(120,120,120)"/><path d="M-18,35 52,35 52,-9 -18,-9 -18,35Z" fill="rgb(120,120,120)"/><path d="M-12,-35 40,-35 40,-72 -12,-72 -12,-35Z" fill="rgb(112,112,112)"/><path d="M110,45 155,45 155,10 110,10 110,45Z" fill="rgb(117,117,117)"/><path d="M30,-48 95,-48 95,-72 30,-72 30,-48Z" fill="rgb(117,117,117)"/><path d="M95,-48 150,-48 150,-70 95,-70 95,-48Z" fill="rgb(133,133,133)"/><path d="M-170,-64 -95,-64 -95,-72 -170,-72 -170,-64Z" fill="rgb(158,158,158)"/><path d="M52,-43.5 56,-45.5 62,-46.5 68,-46 72,-46.5 80,-46 88,-46.5 95,-46 102,-45 108,-44 110,-42 106,-39 100,-38 96,-36 92,-34 86,-33 80,-33 76,-35 72,-36 68,-35.5 64,-36 60,-37 56,-38 53,-40 52,-43.5Z" fill="rgb(13,13,13)"/><path d="M-18,-11 40,-11 40,-17.5 -18,-17.5 -18,-11Z" fill="rgb(219,219,219)"/><path d="M-105,-30 -90,-30 -90,-45 -105,-45 -105,-30Z" fill="rgb(143,143,143)"/><path d="M-80,-48 -60,-48 -60,-58 -80,-58 -80,-48Z" fill="rgb(102,102,102)"/><path d="M131,11 151,11 151,1 131,1 131,11Z" fill="rgb(158,158,158)"/><path d="M-18,-8 40,-8 40,-11 -18,-11 -18,-8Z" fill="rgb(163,163,163)"/><path d="M16,14 29,14 29,1 16,1 16,14Z" fill="rgb(194,194,194)"/><path d="M-92,-41 -75,-41 -75,-50 -92,-50 -92,-41Z" fill="rgb(77,77,77)"/><path d="M-78,10 -64,10 -64,0 -78,0 -78,10Z" fill="rgb(158,158,158)"/><path d="M108,5 120,5 120,-5 108,-5 108,5Z" fill="rgb(158,158,158)"/><path d="M20,24 32,24 32,16 20,16 20,24Z" fill="rgb(148,148,148)"/><path d="M35,-5 42,-5 42,-12 35,-12 35,-5Z" fill="rgb(158,158,158)"/><path d="M74,-8 80,-8 80,-16 74,-16 74,-8Z" fill="rgb(143,143,143)"/></g>
<use href="#nodB" fill="#fff"/>
</g>
<use href="#land" fill="none" stroke="#111" stroke-width="1.685" stroke-linejoin="round"/>
<use href="#outl" fill="none" stroke="#111" stroke-width="1.531" stroke-linejoin="round"/>
</g>
</g>
<g transform="translate(419.200,236.357) scale(0.65833,0.63571)">
<g clip-path="url(#frameclip)">
<g clip-path="url(#landclip)">
<g filter="url(#texc)"><rect x="-180" y="-80" width="360" height="140" fill="rgb(128,128,128)"/><path d="M-180,-10 -50,-10 -50,-80 -180,-80 -180,-10Z" fill="rgb(120,120,120)"/><path d="M-18,35 52,35 52,-9 -18,-9 -18,35Z" fill="rgb(120,120,120)"/><path d="M-12,-35 40,-35 40,-72 -12,-72 -12,-35Z" fill="rgb(112,112,112)"/><path d="M110,45 155,45 155,10 110,10 110,45Z" fill="rgb(117,117,117)"/><path d="M30,-48 95,-48 95,-72 30,-72 30,-48Z" fill="rgb(115,115,115)"/><path d="M95,-48 150,-48 150,-70 95,-70 95,-48Z" fill="rgb(120,120,120)"/><path d="M150,-55 190,-55 190,-72 150,-72 150,-55Z" fill="rgb(143,143,143)"/><path d="M-170,-64 -95,-64 -95,-72 -170,-72 -170,-64Z" fill="rgb(158,158,158)"/><path d="M52,-43.5 56,-45.5 62,-46.5 68,-46 72,-46.5 80,-46 88,-46.5 95,-46 102,-45 108,-44 110,-42 106,-39 100,-38 96,-36 92,-34 86,-33 80,-33 76,-35 72,-36 68,-35.5 64,-36 60,-37 56,-38 53,-40 52,-43.5Z" fill="rgb(13,13,13)"/><path d="M-18,-11 40,-11 40,-17.5 -18,-17.5 -18,-11Z" fill="rgb(219,219,219)"/><path d="M-105,-30 -90,-30 -90,-45 -105,-45 -105,-30Z" fill="rgb(143,143,143)"/><path d="M-80,-48 -60,-48 -60,-58 -80,-58 -80,-48Z" fill="rgb(102,102,102)"/><path d="M131,11 151,11 151,1 131,1 131,11Z" fill="rgb(158,158,158)"/><path d="M-18,-8 40,-8 40,-11 -18,-11 -18,-8Z" fill="rgb(163,163,163)"/><path d="M16,14 29,14 29,1 16,1 16,14Z" fill="rgb(199,199,199)"/><path d="M-92,-41 -75,-41 -75,-50 -92,-50 -92,-41Z" fill="rgb(77,77,77)"/><path d="M-78,10 -64,10 -64,0 -78,0 -78,10Z" fill="rgb(158,158,158)"/><path d="M108,5 120,5 120,-5 108,-5 108,5Z" fill="rgb(158,158,158)"/><path d="M20,24 32,24 32,16 20,16 20,24Z" fill="rgb(153,153,153)"/><path d="M35,-5 42,-5 42,-12 35,-12 35,-5Z" fill="rgb(163,163,163)"/><path d="M74,-8 80,-8 80,-16 74,-16 74,-8Z" fill="rgb(148,148,148)"/></g>
<use href="#nodC" fill="#fff"/>
</g>
<use href="#land" fill="none" stroke="#111" stroke-width="1.685" stroke-linejoin="round"/>
<use href="#outl" fill="none" stroke="#111" stroke-width="1.531" stroke-linejoin="round"/>
</g>
</g>
<rect x="167.60" y="3.60" width="238.70" height="89.90" fill="none" stroke="#555" stroke-width="0.9"/><path d="M207.38,93.50v-2M207.38,3.60v2M247.17,93.50v-2M247.17,3.60v2M286.95,93.50v-2M286.95,3.60v2M326.73,93.50v-2M326.73,3.60v2M366.52,93.50v-2M366.52,3.60v2M167.60,16.44h2M406.30,16.44h-2M167.60,35.71h2M406.30,35.71h-2M167.60,54.97h2M406.30,54.97h-2M167.60,74.24h2M406.30,74.24h-2" stroke="#555" stroke-width="0.9" fill="none"/><rect x="41.50" y="185.50" width="237.10" height="89.00" fill="none" stroke="#555" stroke-width="0.9"/><path d="M81.02,274.50v-2M81.02,185.50v2M120.53,274.50v-2M120.53,185.50v2M160.05,274.50v-2M160.05,185.50v2M199.57,274.50v-2M199.57,185.50v2M239.08,274.50v-2M239.08,185.50v2M41.50,198.21h2M278.60,198.21h-2M41.50,217.29h2M278.60,217.29h-2M41.50,236.36h2M278.60,236.36h-2M41.50,255.43h2M278.60,255.43h-2" stroke="#555" stroke-width="0.9" fill="none"/><rect x="300.70" y="185.50" width="237.00" height="89.00" fill="none" stroke="#555" stroke-width="0.9"/><path d="M340.20,274.50v-2M340.20,185.50v2M379.70,274.50v-2M379.70,185.50v2M419.20,274.50v-2M419.20,185.50v2M458.70,274.50v-2M458.70,185.50v2M498.20,274.50v-2M498.20,185.50v2M300.70,198.21h2M537.70,198.21h-2M300.70,217.29h2M537.70,217.29h-2M300.70,236.36h2M537.70,236.36h-2M300.70,255.43h2M537.70,255.43h-2" stroke="#555" stroke-width="0.9" fill="none"/>
<text x="162.90" y="19.44" text-anchor="end" class="tk">60°N</text><text x="162.90" y="38.71" text-anchor="end" class="tk">30°N</text><text x="162.90" y="57.97" text-anchor="end" class="tk">0°</text><text x="162.90" y="77.24" text-anchor="end" class="tk">30°S</text><text x="162.90" y="96.50" text-anchor="end" class="tk">60°S</text><text x="167.60" y="107.10" text-anchor="middle" class="tk">180°</text><text x="207.38" y="107.10" text-anchor="middle" class="tk">120°W</text><text x="247.17" y="107.10" text-anchor="middle" class="tk">60°W</text><text x="286.95" y="107.10" text-anchor="middle" class="tk">0°</text><text x="326.73" y="107.10" text-anchor="middle" class="tk">60°E</text><text x="366.52" y="107.10" text-anchor="middle" class="tk">120°E</text><text x="406.30" y="107.10" text-anchor="middle" class="tk">180°</text><text x="286.95" y="118.80" text-anchor="middle" class="al">Longitude</text><text transform="translate(138.50,48.55) rotate(-90)" text-anchor="middle" class="al">Latitude</text><text x="36.80" y="201.21" text-anchor="end" class="tk">60°N</text><text x="36.80" y="220.29" text-anchor="end" class="tk">30°N</text><text x="36.80" y="239.36" text-anchor="end" class="tk">0°</text><text x="36.80" y="258.43" text-anchor="end" class="tk">30°S</text><text x="36.80" y="277.50" text-anchor="end" class="tk">60°S</text><text x="41.50" y="288.10" text-anchor="middle" class="tk">180°</text><text x="81.02" y="288.10" text-anchor="middle" class="tk">120°W</text><text x="120.53" y="288.10" text-anchor="middle" class="tk">60°W</text><text x="160.05" y="288.10" text-anchor="middle" class="tk">0°</text><text x="199.57" y="288.10" text-anchor="middle" class="tk">60°E</text><text x="239.08" y="288.10" text-anchor="middle" class="tk">120°E</text><text x="278.60" y="288.10" text-anchor="middle" class="tk">180°</text><text x="160.05" y="299.80" text-anchor="middle" class="al">Longitude</text><text transform="translate(12.40,230.00) rotate(-90)" text-anchor="middle" class="al">Latitude</text><text x="300.70" y="288.10" text-anchor="middle" class="tk">180°</text><text x="340.20" y="288.10" text-anchor="middle" class="tk">120°W</text><text x="379.70" y="288.10" text-anchor="middle" class="tk">60°W</text><text x="419.20" y="288.10" text-anchor="middle" class="tk">0°</text><text x="458.70" y="288.10" text-anchor="middle" class="tk">60°E</text><text x="498.20" y="288.10" text-anchor="middle" class="tk">120°E</text><text x="537.70" y="288.10" text-anchor="middle" class="tk">180°</text><text x="419.20" y="299.80" text-anchor="middle" class="al">Longitude</text>
<text x="173.90" y="37.2" class="lb">(a)</text>
<text x="47.80" y="220.8" class="lb">(b)</text>
<text x="305.50" y="219.8" class="lb">(c)</text>
<path d="M190.40,53.60V86.40H230.80M190.40,53.60h1.5M190.40,70.00h1.5" stroke="#333" stroke-width="0.8" fill="none"/><rect x="192.10" y="82.14" width="3.6" height="4.26" fill="#33cc00" stroke="#222" stroke-width="0.6"/><rect x="196.70" y="78.20" width="3.6" height="8.20" fill="#33ff33" stroke="#222" stroke-width="0.6"/><rect x="201.30" y="77.22" width="3.6" height="9.18" fill="#ccff00" stroke="#222" stroke-width="0.6"/><rect x="205.90" y="79.51" width="3.6" height="6.89" fill="#ff9933" stroke="#222" stroke-width="0.6"/><rect x="210.50" y="82.30" width="3.6" height="4.10" fill="#ff3333" stroke="#222" stroke-width="0.6"/><text x="186.40" y="56.10" text-anchor="end" class="it">1.0</text><text x="186.40" y="72.50" text-anchor="end" class="it">0.5</text><text x="186.40" y="88.90" text-anchor="end" class="it">0</text><text transform="translate(177.20,86.90) rotate(-90)" text-anchor="start" class="pc" style="font-size:8.05px">Percentage</text>
<path d="M64.50,235.40V268.20H104.90M64.50,235.40h1.5M64.50,251.80h1.5" stroke="#333" stroke-width="0.8" fill="none"/><rect x="66.20" y="266.72" width="3.6" height="1.48" fill="#33cc00" stroke="#222" stroke-width="0.6"/><rect x="70.80" y="257.70" width="3.6" height="10.50" fill="#33ff33" stroke="#222" stroke-width="0.6"/><rect x="75.40" y="256.06" width="3.6" height="12.14" fill="#ccff00" stroke="#222" stroke-width="0.6"/><rect x="80.00" y="261.97" width="3.6" height="6.23" fill="#ff9933" stroke="#222" stroke-width="0.6"/><rect x="84.60" y="265.90" width="3.6" height="2.30" fill="#ff3333" stroke="#222" stroke-width="0.6"/><text x="60.50" y="237.90" text-anchor="end" class="it">1.0</text><text x="60.50" y="254.30" text-anchor="end" class="it">0.5</text><text x="60.50" y="270.70" text-anchor="end" class="it">0</text><text transform="translate(50.50,268.90) rotate(-90)" text-anchor="start" class="pc" style="font-size:8.75px">Percentage</text>
<path d="M323.80,235.40V268.20H364.20M323.80,235.40h1.5M323.80,251.80h1.5" stroke="#333" stroke-width="0.8" fill="none"/><rect x="325.50" y="264.43" width="3.6" height="3.77" fill="#33cc00" stroke="#222" stroke-width="0.6"/><rect x="330.10" y="256.39" width="3.6" height="11.81" fill="#33ff33" stroke="#222" stroke-width="0.6"/><rect x="334.70" y="258.69" width="3.6" height="9.51" fill="#ccff00" stroke="#222" stroke-width="0.6"/><rect x="339.30" y="264.43" width="3.6" height="3.77" fill="#ff9933" stroke="#222" stroke-width="0.6"/><rect x="343.90" y="264.92" width="3.6" height="3.28" fill="#ff3333" stroke="#222" stroke-width="0.6"/><text x="319.80" y="237.90" text-anchor="end" class="it">1.0</text><text x="319.80" y="254.30" text-anchor="end" class="it">0.5</text><text x="319.80" y="270.70" text-anchor="end" class="it">0</text><text transform="translate(310.20,273.70) rotate(-90)" text-anchor="start" class="pc" style="font-size:8.9px">Percentage</text>
<rect x="182.20" y="130.00" width="42" height="10.2" fill="#33cc00"/><rect x="224.20" y="130.00" width="42" height="10.2" fill="#33ff33"/><rect x="266.20" y="130.00" width="42" height="10.2" fill="#ccff00"/><rect x="308.20" y="130.00" width="42" height="10.2" fill="#ff9933"/><rect x="350.20" y="130.00" width="42" height="10.2" fill="#ff3333"/><rect x="182.20" y="130.00" width="210" height="10.2" fill="none" stroke="#444" stroke-width="0.8"/><path d="M224.20,140.20v-2.8M266.20,140.20v-2.8M308.20,140.20v-2.8M350.20,140.20v-2.8" stroke="#333" stroke-width="0.8"/><text x="224.20" y="152.60" text-anchor="middle" class="cl">3</text><text x="266.20" y="152.60" text-anchor="middle" class="cl">5</text><text x="308.20" y="152.60" text-anchor="middle" class="cl">7</text><text x="350.20" y="152.60" text-anchor="middle" class="cl">9</text><text x="286.10" y="166.60" text-anchor="middle" class="tt" style="font-size:13px">Drought frequency</text>
<rect x="55.60" y="311.30" width="42" height="10.2" fill="#33cc00"/><rect x="97.60" y="311.30" width="42" height="10.2" fill="#33ff33"/><rect x="139.60" y="311.30" width="42" height="10.2" fill="#ccff00"/><rect x="181.60" y="311.30" width="42" height="10.2" fill="#ff9933"/><rect x="223.60" y="311.30" width="42" height="10.2" fill="#ff3333"/><rect x="55.60" y="311.30" width="210" height="10.2" fill="none" stroke="#444" stroke-width="0.8"/><path d="M97.60,321.50v-2.8M139.60,321.50v-2.8M181.60,321.50v-2.8M223.60,321.50v-2.8" stroke="#333" stroke-width="0.8"/><text x="97.60" y="335.30" text-anchor="middle" class="cl">5</text><text x="139.60" y="335.30" text-anchor="middle" class="cl">8</text><text x="181.60" y="335.30" text-anchor="middle" class="cl">11</text><text x="223.60" y="335.30" text-anchor="middle" class="cl">15</text><text x="162.30" y="354.00" text-anchor="middle" class="tt" style="font-size:12.7px">Drought duration</text>
<rect x="314.00" y="311.30" width="42" height="10.2" fill="#33cc00"/><rect x="356.00" y="311.30" width="42" height="10.2" fill="#33ff33"/><rect x="398.00" y="311.30" width="42" height="10.2" fill="#ccff00"/><rect x="440.00" y="311.30" width="42" height="10.2" fill="#ff9933"/><rect x="482.00" y="311.30" width="42" height="10.2" fill="#ff3333"/><rect x="314.00" y="311.30" width="210" height="10.2" fill="none" stroke="#444" stroke-width="0.8"/><path d="M356.00,321.50v-2.8M398.00,321.50v-2.8M440.00,321.50v-2.8M482.00,321.50v-2.8" stroke="#333" stroke-width="0.8"/><text x="356.00" y="335.30" text-anchor="middle" class="cl">8</text><text x="398.00" y="335.30" text-anchor="middle" class="cl">13</text><text x="440.00" y="335.30" text-anchor="middle" class="cl">18</text><text x="482.00" y="335.30" text-anchor="middle" class="cl">23</text><text x="415.90" y="354.00" text-anchor="middle" class="tt" style="font-size:13px">Drought severity</text>
<text x="272" y="321" class="lb2 tt">Month</text>
</svg>
</body></html>
